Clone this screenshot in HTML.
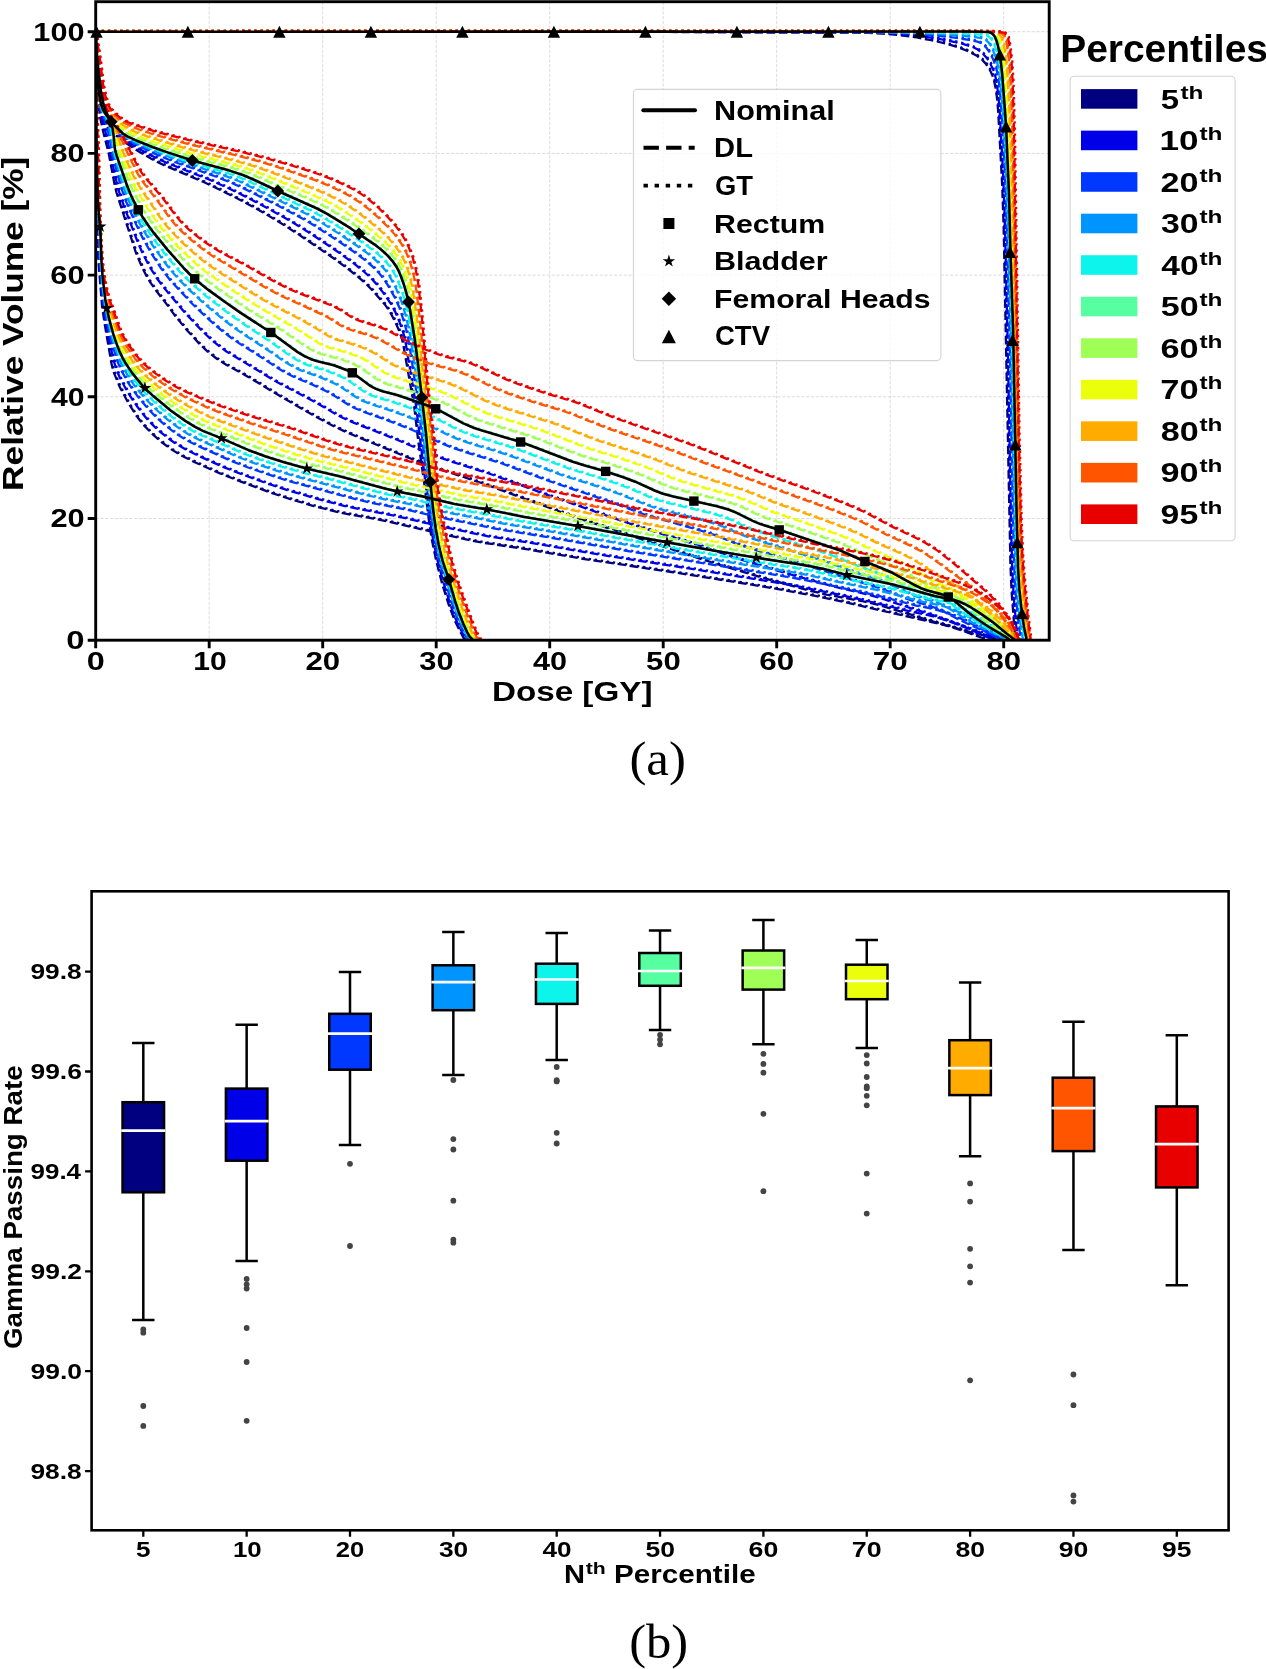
<!DOCTYPE html><html><head><meta charset="utf-8"><title>DVH percentiles and gamma passing rate</title><style>html,body{margin:0;padding:0;background:#fff;}svg{display:block;will-change:transform;}</style></head><body>
<svg width="1266" height="1669" viewBox="0 0 1266 1669">
<rect x="0" y="0" width="1266" height="1669" fill="#fff"/>
<defs><clipPath id="ca"><rect x="95.7" y="1.7" width="953.5" height="638.5"/></clipPath></defs>
<path d="M209.2,1.7V640.2M322.7,1.7V640.2M436.2,1.7V640.2M549.7,1.7V640.2M663.2,1.7V640.2M776.7,1.7V640.2M890.2,1.7V640.2M1003.7,1.7V640.2M95.7,518.5H1049.2M95.7,396.8H1049.2M95.7,275.1H1049.2M95.7,153.4H1049.2M95.7,31.7H1049.2" stroke="#dcdcdc" stroke-width="1" stroke-dasharray="3.2,1.6" fill="none"/>
<g clip-path="url(#ca)" fill="none" stroke-width="2.3">
<path d="M95.7,31.7L665.72,31.95L849.39,32.63L868.39,32.95L883.15,33.68L899.96,35.2L916.7,37.48L931.23,40.18L945.61,43.55L957.76,47.12L967.6,50.95L976.96,55.8L981.99,59.63L986.24,64.32L989.67,69.63L992.37,75.36L994.26,81.4L995.5,87.61L997.03,98.05L998.14,110.67L1002.15,184.45L1003.63,226.65L1010.43,564.37L1011.61,591.78L1015.3,640.2" stroke="#000080" stroke-dasharray="8.5,3.7"/>
<path d="M95.7,30.8L665.72,31.05L849.39,31.73L868.41,32.05L883.21,32.78L900.06,34.31L916.84,36.59L931.41,39.3L945.84,42.68L958.05,46.27L967.96,50.12L977.44,55.04L982.6,58.97L986.96,63.77L990.46,69.2L993.21,75.03L995.13,81.18L996.39,87.46L997.92,97.94L999.04,110.61L1003.05,184.41L1004.53,226.62L1011.33,564.34L1012.5,591.73L1016.2,640.13" stroke="#000080" stroke-dasharray="2.3,3.8"/>
<path d="M95.7,31.7L96.22,72.86L96.69,95.11L97.08,100.66L99.16,110.45L102.45,119.9L104.92,124.87L107.82,128.24L116.95,136.39L124.05,141.75L137.95,150.98L150.41,158.33L157.31,161.94L166.38,166.17L205.3,182.69L234.27,196.89L249.06,204.64L263.63,212.77L279.87,222.48L297.7,233.83L331.75,256.96L347.03,268.11L358.38,277.08L366.69,284.47L373.68,291.64L385.31,305.12L389.76,311.5L394.97,321.33L399.03,330.48L401.67,337.81L403.17,344.31L414.24,406.75L418.09,439.91L424.33,483.97L429.48,524.82L432.17,541.29L435.99,559.81L442.36,584.59L449.43,606.86L455.57,622.37L464.7,640.2" stroke="#000080" stroke-dasharray="8.5,3.7"/>
<path d="M96.6,31.69L97.12,72.85L97.59,95.08L97.97,100.55L100.02,110.2L103.29,119.57L105.66,124.37L108.45,127.59L117.52,135.7L124.57,141.01L138.43,150.22L150.84,157.54L157.71,161.14L166.75,165.35L205.68,181.88L234.68,196.09L249.48,203.85L264.08,211.99L280.34,221.71L298.19,233.08L332.27,256.23L347.58,267.39L358.96,276.39L367.31,283.82L374.35,291.03L386.01,304.56L390.53,311.04L395.78,320.94L399.87,330.14L402.53,337.55L404.06,344.15L415.13,406.62L418.98,439.8L425.22,483.85L430.37,524.69L433.05,541.12L436.87,559.61L443.23,584.35L450.28,606.56L456.39,622L465.5,639.79" stroke="#000080" stroke-dasharray="2.3,3.8"/>
<path d="M95.7,31.7L96.49,84.77L97.51,100.14L99.3,113.71L103.7,133.78L108.44,152L114.5,183.96L116.41,192.3L135.87,252.57L142.58,268.32L146.51,275.92L149.98,281.82L154.81,288.89L167.38,305.14L175.39,316.24L187.45,330.71L198.98,343.36L207.63,351.65L217.09,358.99L225.81,364.42L248.26,376.89L277.58,394.57L302.73,409.21L319.12,418.48L332.75,425.68L343.55,430.85L357.71,436.95L408.41,457.68L430.79,466.28L482.82,483.41L556.75,510.53L582.58,519.67L694.67,556.94L720.78,565.24L768.36,579.39L809.66,590.63L826.33,594.51L863.36,601.41L878.35,604.95L893.17,609.18L925.86,619.36L945.57,625.14L970.3,632.08L988.59,636.53L1000,640.2" stroke="#000080" stroke-dasharray="8.5,3.7"/>
<path d="M96.6,31.69L97.39,84.73L98.41,100.05L100.19,113.55L104.58,133.57L109.32,151.81L115.39,183.79L117.28,192.07L136.72,252.26L143.39,267.93L147.3,275.48L150.74,281.35L155.53,288.36L168.1,304.6L176.11,315.7L188.13,330.12L199.62,342.73L208.22,350.97L217.6,358.25L227.74,364.49L248.71,376.11L278.04,393.79L303.18,408.43L319.56,417.69L333.15,424.88L343.93,430.03L358.05,436.12L408.75,456.85L431.09,465.43L483.12,482.56L557.06,509.68L582.87,518.82L694.95,556.09L721.04,564.38L768.61,578.53L809.88,589.76L826.52,593.63L863.54,600.53L878.58,604.08L893.43,608.32L926.12,618.5L945.82,624.28L970.52,631.21L988.84,635.66L1000.28,639.34" stroke="#000080" stroke-dasharray="2.3,3.8"/>
<path d="M95.7,31.7L95.97,165.61L96.5,216.97L97.21,240.81L98.41,260.95L102.11,306.66L104.51,322.99L111.33,362.76L112.53,368.13L114.16,373.39L119.79,386.93L127.5,401.53L136.23,415.53L142.93,424.26L151.77,433.56L161.42,442.02L171.75,449.65L181.13,455.39L194.24,461.97L219.39,473.14L241.57,481.89L269.1,492.07L288.24,498.47L312.86,505.77L335.96,511.69L346.73,513.92L372.04,518.28L384.64,520.77L461.51,538.43L481.29,542.45L521.21,548.3L584.51,559.04L671.61,571.99L733.21,581.7L776.66,588.85L816.36,596.07L843.28,601.76L941.61,624.35L950.45,626.78L960.94,630.12L988.5,640.2" stroke="#000080" stroke-dasharray="8.5,3.7"/>
<path d="M96.6,31.7L96.87,165.6L97.4,216.95L98.11,240.76L99.31,260.88L103.01,306.55L105.4,322.84L111.88,360.8L112.96,366.14L114.43,371.37L119.07,383.24L126.49,397.89L131.05,405.81L135.94,413.52L142.44,422.28L151.07,431.65L160.57,440.17L172.25,448.9L183.17,455.47L196.29,461.92L221.43,473.01L243.61,481.7L269.4,491.22L288.51,497.61L313.1,504.9L336.16,510.81L346.9,513.04L372.2,517.39L384.83,519.89L461.71,537.55L481.44,541.57L521.36,547.41L584.65,558.16L671.74,571.1L733.36,580.81L776.81,587.96L816.53,595.19L843.48,600.89L941.83,623.48L950.7,625.91L961.23,629.27L988.8,639.35" stroke="#000080" stroke-dasharray="2.3,3.8"/>
<path d="M95.7,31.7L666.21,31.88L867.69,32.58L884.64,33.13L899.45,34.08L916.31,35.69L930.99,37.63L947.64,40.49L962.03,43.71L972.07,46.76L977.75,49.52L982.63,53.34L986.75,57.92L990.13,63.16L993.61,70.79L995.46,76.84L997.02,85.17L998.39,95.68L999.61,110.47L1003.12,174L1004.74,216.38L1007.91,352.08L1011.14,528.08L1012.23,568.36L1013.66,595.89L1016.23,625.46L1017.84,640.2" stroke="#0000e8" stroke-dasharray="8.5,3.7"/>
<path d="M95.7,30.8L666.21,30.98L867.7,31.68L884.68,32.23L901.63,33.35L916.41,34.8L933.22,37.07L949.88,40.02L962.26,42.84L972.38,45.91L978.23,48.76L983.24,52.68L987.47,57.38L990.92,62.73L994.45,70.48L996.33,76.63L997.91,85.03L999.28,95.58L1000.51,110.41L1004.02,173.95L1005.64,216.36L1008.81,352.06L1012.04,528.06L1013.13,568.33L1014.56,595.82L1017.13,625.38L1018.74,640.1" stroke="#0000e8" stroke-dasharray="2.3,3.8"/>
<path d="M95.7,31.7L96.64,68.64L97.69,93.24L98.39,101.03L100.71,110.82L104.31,120.21L107.05,125.05L110.85,129.14L117.58,135.05L123.89,139.64L136.23,147.27L150.88,155.38L166.03,162.55L209.74,179.76L230.14,188.94L248.18,197.94L268.96,208.93L285.55,218.22L301.87,227.99L321.58,240.81L337.33,251.52L352.78,262.64L363.29,271.01L370.71,277.81L376.74,284.36L383.52,293.12L391.07,304.01L395.23,311.84L399.57,322.09L403.26,332.6L405.41,341.28L415.82,404.26L430.19,520.97L432.76,537.57L436.53,556.24L439.21,567.11L444.06,584.35L451.8,608.92L455.41,618.33L458.12,624.48L463.2,634.46L466.6,640.2" stroke="#0000e8" stroke-dasharray="8.5,3.7"/>
<path d="M96.6,31.68L97.71,73.08L98.65,94.3L99.45,101.98L101.91,111.6L105.59,120.82L108.43,125.36L112.28,129.24L119.01,135.04L125.32,139.5L138.61,147.61L151.3,154.58L166.39,161.72L210.09,178.93L230.53,188.13L248.59,197.14L269.39,208.13L286,217.44L302.34,227.23L322.08,240.06L337.84,250.78L353.32,261.92L363.88,270.32L371.34,277.17L377.43,283.78L384.25,292.59L391.83,303.54L396.05,311.46L400.4,321.76L404.12,332.33L406.29,341.12L416.71,404.13L431.08,520.85L433.65,537.42L437.41,556.04L440.08,566.88L444.92,584.1L452.65,608.62L458.93,624.1L463.99,634.03L467.37,639.73" stroke="#0000e8" stroke-dasharray="2.3,3.8"/>
<path d="M95.7,31.7L96.72,82.85L97.82,98.15L99.54,109.94L104.58,127.79L116.7,182.65L118.8,190.91L124.26,207.04L137.62,241.87L143.08,254.23L149.37,266.24L156.52,277.79L163.66,287.32L184.31,312.09L199.45,328.13L207.94,336.45L214.25,342.14L220.87,347.5L226.42,351.46L277.43,382.35L313.54,401.19L335.65,413.98L343.17,417.99L354.06,422.84L395.3,439.03L426.67,452.36L439.34,457.4L452.23,461.85L489.61,473.72L552.04,496.64L637.4,526.24L695.98,544.44L734.65,557.7L783.62,572.47L832.81,586.29L865.9,594.01L878.99,597.59L906.37,606.77L930.78,614.4L965.46,627.5L976.63,631.36L991.17,635.9L1002.21,640.2" stroke="#0000e8" stroke-dasharray="8.5,3.7"/>
<path d="M96.6,31.69L97.61,82.8L98.72,98.05L100.42,109.76L105.46,127.59L117.58,182.46L119.66,190.66L125.11,206.73L138.45,241.53L143.89,253.84L150.15,265.79L157.26,277.28L164.36,286.75L184.99,311.49L200.1,327.5L208.56,335.79L214.84,341.46L221.41,346.78L226.92,350.71L277.87,381.57L313.97,400.4L336.1,413.2L343.57,417.18L354.4,422.01L395.64,438.19L427.02,451.53L439.65,456.55L452.51,460.99L489.9,472.87L552.34,495.79L637.67,525.39L696.26,543.59L734.92,556.84L783.88,571.61L833.04,585.42L866.11,593.13L879.26,596.73L906.65,605.92L931.07,613.55L965.77,626.65L976.91,630.51L991.46,635.04L1002.57,639.37" stroke="#0000e8" stroke-dasharray="2.3,3.8"/>
<path d="M95.7,31.7L96.11,158.33L97.06,217.04L98.74,255.53L101.55,292.12L103.35,308.53L106.76,328.41L112.88,357.04L115.17,365.84L117,370.98L119.91,377.67L126.77,390.54L132.61,399.78L137.78,407.27L143.31,414.51L148.06,420.06L154.45,426.59L159.87,431.52L166.95,437.32L174.37,442.68L185.32,449.32L198.45,455.86L223.58,467.09L242.35,474.51L268.25,483.79L287.4,490.13L319.12,499.31L343.97,505.82L358.32,508.91L392.59,515.3L430.15,523.9L474.96,533.68L489.36,536.54L531.09,542.9L599.82,554.65L688.68,568.44L773.84,582.1L795.52,585.94L836.89,594.25L863.78,600.14L904.8,610.09L928.1,615.17L938.71,618L952.58,622.43L964.52,626.89L994.42,640.2" stroke="#0000e8" stroke-dasharray="8.5,3.7"/>
<path d="M96.6,31.7L97.01,158.32L97.96,217L99.64,255.47L102.45,292.04L104.24,308.4L107.64,328.24L113.76,356.84L116.03,365.57L117.84,370.65L120.72,377.29L127.55,390.08L133.36,399.29L138.51,406.74L144.01,413.94L148.72,419.45L155.08,425.94L160.46,430.84L167.5,436.61L174.88,441.94L185.75,448.53L198.83,455.05L223.93,466.27L242.66,473.67L268.55,482.94L287.67,489.27L319.36,498.44L344.18,504.94L358.49,508.03L392.77,514.42L430.34,523.02L475.15,532.8L489.52,535.65L531.23,542.01L599.97,553.76L688.82,567.55L773.99,581.21L795.69,585.06L837.08,593.36L863.99,599.26L905,609.22L928.31,614.29L938.96,617.14L952.88,621.58L964.85,626.06L994.78,639.37" stroke="#0000e8" stroke-dasharray="2.3,3.8"/>
<path d="M95.7,31.7L694.94,31.83L871.94,32.28L906.02,33.37L937.81,35.77L954.65,37.7L967.18,39.58L977.47,41.7L981.39,43.29L983.13,44.49L986.09,47.35L989.65,52.31L993.35,59.69L996.1,67.63L997.56,73.81L998.86,82.22L1000.21,94.93L1001.66,114.07L1004.59,167.3L1006.37,214.18L1009.86,350.62L1012.98,521.19L1014.23,568.09L1015.03,585.13L1016,597.89L1018.8,625.46L1020.91,640.2" stroke="#0038ff" stroke-dasharray="8.5,3.7"/>
<path d="M95.7,30.8L694.94,30.93L871.95,31.38L889.02,31.74L908.2,32.59L940.02,35.09L954.77,36.81L967.34,38.69L977.71,40.83L981.85,42.52L983.68,43.77L986.77,46.77L990.42,51.84L994.18,59.35L996.96,67.38L998.44,73.63L999.75,82.11L1001.11,94.85L1002.56,114.01L1005.49,167.26L1007.27,214.16L1010.76,350.6L1013.88,521.17L1015.13,568.05L1015.93,585.07L1016.89,597.8L1019.69,625.35L1021.8,640.06" stroke="#0038ff" stroke-dasharray="2.3,3.8"/>
<path d="M95.7,31.7L97.23,68.91L98.86,92.54L100.18,102.58L102.97,112.33L107.09,121.57L110.35,126.12L116.86,132.38L121.29,135.84L127.96,140.01L139.82,146.39L152.93,152.84L165.28,158.29L174.72,162.02L215.11,176.22L231.83,182.93L245.13,189.11L275.4,204.29L303.3,219L313.01,224.75L336.75,240.02L353.49,251.53L364.39,259.58L372.13,266.15L378.51,272.51L383.48,278.58L387.78,285.07L395.4,298.57L399.45,307.71L404.68,323.65L408.16,337.84L412.09,362.36L418.68,408.17L431.6,520.32L434.2,537.05L437.55,553.65L440.94,566.76L449.92,597.06L454.13,609.94L458.23,620.46L461.98,628.68L465.66,635.66L468.9,640.2" stroke="#0038ff" stroke-dasharray="8.5,3.7"/>
<path d="M96.6,31.67L98.13,68.85L99.76,92.46L101.06,102.4L103.81,112.02L107.87,121.12L111.03,125.52L117.45,131.7L121.81,135.11L128.4,139.23L140.23,145.59L153.31,152.02L165.63,157.46L175.04,161.18L215.42,175.37L232.19,182.1L245.53,188.3L275.8,203.48L303.74,218.22L313.49,223.99L337.24,239.27L354.01,250.8L364.94,258.87L372.74,265.48L379.18,271.9L384.21,278.04L388.54,284.6L396.2,298.16L400.29,307.39L405.54,323.4L409.04,337.68L412.98,362.23L419.58,408.05L432.49,520.2L435.09,536.89L438.43,553.45L441.81,566.51L450.79,596.8L454.98,609.64L459.06,620.11L462.78,628.28L466.43,635.21L469.61,639.66" stroke="#0038ff" stroke-dasharray="2.3,3.8"/>
<path d="M95.7,31.7L96.97,80.9L98.18,96.12L99.75,106.16L101.52,112.66L106.61,124.96L109.44,138.23L112.53,154.87L121.18,187.61L126.28,201.98L135.02,222.14L143.08,238.73L151.28,253.33L161.44,268.81L170.78,280.83L191.44,303.06L204.88,315.81L214.92,324.82L222.69,331.31L230.72,337.51L237.68,342.36L259.2,355.91L277.64,367.98L284.91,372.34L293.96,376.94L312.57,384.69L326.31,391.24L333.71,395.39L347.97,404.52L353.91,407.78L363.28,411.73L388.81,420.83L409.4,428.75L418.76,432.76L440.28,442.75L449.67,446.67L462.48,451.15L501.37,463.25L553.87,482.76L608.57,501.08L645.1,514.75L705.42,531.94L716.66,535.78L735.52,543.31L745.11,546.7L800.22,563.78L821.37,570.03L847.07,578.41L871.4,585.4L881.04,588.49L909.24,599.71L930.33,606.14L936.72,608.41L942.86,611.15L959.05,619.62L969.6,624.67L980.28,629.49L997.38,636.46L1004.88,640.2" stroke="#0038ff" stroke-dasharray="8.5,3.7"/>
<path d="M96.6,31.68L97.87,80.85L99.07,96.02L100.63,105.98L102.36,112.34L107.48,124.72L110.33,138.05L113.41,154.67L122.04,187.35L127.12,201.65L135.83,221.76L143.88,238.31L152.04,252.87L162.17,268.29L171.46,280.24L192.09,302.43L205.49,315.15L215.51,324.14L223.25,330.61L231.26,336.79L238.18,341.61L259.69,355.16L278.12,367.22L285.35,371.56L294.33,376.12L312.94,383.87L326.73,390.44L334.18,394.62L348.43,403.75L354.31,406.97L363.6,410.88L389.12,419.99L409.74,427.91L419.14,431.94L440.64,441.93L449.99,445.83L462.76,450.29L501.67,462.4L554.18,481.91L608.87,500.23L645.38,513.89L705.69,531.08L716.98,534.94L735.84,542.47L745.38,545.85L800.48,562.92L821.64,569.17L847.33,577.55L871.66,584.54L881.34,587.64L909.55,598.86L930.61,605.28L937.06,607.57L943.25,610.35L959.46,618.81L969.98,623.86L980.63,628.66L997.74,635.64L1005.33,639.42" stroke="#0038ff" stroke-dasharray="2.3,3.8"/>
<path d="M95.7,31.7L96.28,152.88L97.38,209.79L98.4,226.26L99.8,259.28L101.63,283.08L103.76,303.15L107.24,323.03L111.86,342.64L117,360.13L121.14,370.18L128.23,382.89L133.31,390.43L138.78,397.68L145.72,406.07L151.84,412.79L158.34,419.19L165.2,425.22L172.39,430.89L178.37,435.12L187.74,440.83L199.21,446.52L231.02,460.82L248.11,467.52L268.93,474.7L291.66,481.93L353.66,498.72L375.13,503.58L403.99,509.06L437.96,516.96L499.12,529.39L544.45,536.63L629.48,551.31L788.98,577.09L803.42,579.78L862.68,592.3L880.57,596.44L916.15,605.51L935.9,609.68L944.69,612.26L958.24,617.52L971.42,623.6L979.45,627.8L1001.58,640.2" stroke="#0038ff" stroke-dasharray="8.5,3.7"/>
<path d="M96.6,31.7L97.18,152.87L98.28,209.75L99.29,226.21L100.59,257.39L102.21,279.34L104.66,303.03L107.75,321.06L112.27,340.65L117.85,359.84L121.95,369.79L128.99,382.41L134.04,389.91L139.49,397.12L146.4,405.48L152.49,412.17L158.95,418.53L165.78,424.53L172.93,430.17L178.87,434.37L188.17,440.04L199.59,445.71L231.37,459.99L248.42,466.67L269.21,473.84L291.91,481.07L353.87,497.85L375.31,502.7L404.18,508.18L438.15,516.08L499.28,528.51L544.59,535.74L629.63,550.42L789.13,576.2L803.6,578.9L862.87,591.42L880.79,595.57L916.35,604.63L936.12,608.81L944.98,611.4L958.6,616.7L971.81,622.79L979.89,627.01L1002,639.41" stroke="#0038ff" stroke-dasharray="2.3,3.8"/>
<path d="M95.7,31.7L697.31,31.77L875.01,32.05L911.38,32.81L947.62,34.6L962.46,35.75L975.11,37.11L981.38,38.05L983.43,38.57L985.33,39.55L988.48,42.35L990.77,45.76L992.68,49.41L995.68,57.19L997.9,65.34L999.4,73.72L1000.41,82.21L1003.58,122.76L1005.51,159.1L1007.08,197.61L1010.73,328.16L1014.39,520.81L1015.68,567.89L1016.52,585L1017.99,602.06L1020.65,625.45L1023.13,640.2" stroke="#0094ff" stroke-dasharray="8.5,3.7"/>
<path d="M95.7,30.8L699.45,30.87L879.3,31.19L917.82,32.14L951.93,34.01L975.23,36.21L981.56,37.17L983.75,37.73L985.81,38.79L989.16,41.76L992.57,47.14L995.86,54.9L998.77,65.14L1000.29,73.59L1001.3,82.12L1004.34,120.57L1006.31,156.92L1007.9,195.44L1011.57,325.99L1015.29,520.79L1016.58,567.86L1017.42,584.94L1018.88,601.97L1021.54,625.33L1024.02,640.04" stroke="#0094ff" stroke-dasharray="2.3,3.8"/>
<path d="M95.7,31.7L96.57,53.25L97.85,71.37L99.75,92.84L101.61,104.01L104.35,112.65L106.6,117.85L108.77,121.82L112.25,126.26L119.67,133.27L125.27,137.1L134.25,141.87L148.58,148.59L162.11,154.35L187.65,163.75L223.27,175.12L239.11,181.3L291.28,206.35L308.48,215.05L318.33,220.68L340.42,234.6L355.5,244.74L366.6,252.64L373.7,258.3L380.33,264.49L385.58,270.42L389.47,275.96L396.22,288.84L401.77,302.25L405.91,316.28L410.1,335.03L414.07,360.84L420.61,410.36L432.33,517.59L434.86,534.44L437.89,550.04L441.21,563.25L455.54,609.92L459.64,620.5L463.84,629.82L467.66,636.78L470.56,640.2" stroke="#0094ff" stroke-dasharray="8.5,3.7"/>
<path d="M96.6,31.66L97.47,53.21L98.65,70.16L100.65,92.73L102.48,103.8L105.19,112.32L107.41,117.47L109.52,121.34L112.9,125.64L120.24,132.57L125.73,136.33L134.65,141.06L148.95,147.77L162.45,153.52L187.94,162.9L223.57,174.27L239.47,180.48L291.68,205.54L308.9,214.25L318.8,219.91L340.91,233.85L356.01,244L367.14,251.92L374.29,257.62L380.98,263.86L386.29,269.87L390.23,275.48L397.04,288.46L402.62,301.96L406.78,316.06L410.99,334.87L414.96,360.72L421.5,410.26L433.22,517.48L435.74,534.28L438.77,549.85L442.08,563L456.39,609.61L460.47,620.16L464.64,629.43L468.4,636.27L471.23,639.61" stroke="#0094ff" stroke-dasharray="2.3,3.8"/>
<path d="M95.7,31.7L96.24,57.07L97.22,80.72L98.36,94.2L99.97,104.21L101.21,109.11L102.4,112.24L107.11,121.01L108.37,124.12L111.02,137.37L113.35,152.37L122.73,184.8L127.29,197.52L134.21,212.9L142.8,229.24L153.29,246.33L164.96,262.73L171.2,270.69L176.69,277.09L187.24,288L203.23,302.83L223.94,320L233.33,327.12L243.01,333.91L264.27,347.72L282.37,360.15L290.97,365.53L296.96,368.65L301.6,370.66L320.57,377.37L334.47,383.46L340.41,386.68L355.79,397.07L361.68,400.4L369.49,403.61L393.54,411.55L417.31,420.38L425.09,423.71L446.31,434.14L457.13,438.91L469.89,443.41L495.83,451.13L508.71,455.27L564.19,475.94L593.22,485.04L617.24,493.21L650.23,506.28L661.57,509.68L702.48,520.18L715.47,523.91L723.43,526.78L742,534.84L749.89,537.85L827.32,562.21L855.78,572.64L881.34,581.14L890.69,584.93L913.65,595.37L920.05,597.56L934.69,601.71L942.54,604.79L948.42,607.98L962.44,616.87L972.59,622.63L984.4,628.89L1001.06,636.8L1006.81,640.2" stroke="#0094ff" stroke-dasharray="8.5,3.7"/>
<path d="M96.6,31.68L97.14,57.04L98.11,80.67L99.25,94.1L100.85,104.02L102.07,108.84L103.22,111.87L107.92,120.61L109.23,123.85L111.91,137.21L114.23,152.17L123.59,184.53L128.12,197.18L135.02,212.51L143.58,228.8L154.04,245.83L165.68,262.19L171.89,270.12L177.36,276.49L187.87,287.36L203.82,302.15L224.5,319.29L233.86,326.39L243.51,333.17L264.77,346.97L282.86,359.4L291.42,364.74L297.34,367.84L301.94,369.82L320.89,376.53L334.87,382.66L340.88,385.91L356.27,396.31L362.07,399.59L369.79,402.76L393.83,410.71L417.65,419.55L425.46,422.89L446.7,433.33L457.47,438.08L470.17,442.56L496.09,450.26L509.01,454.42L564.48,475.09L593.5,484.18L617.55,492.36L650.52,505.43L661.8,508.81L702.71,519.31L715.75,523.06L723.76,525.95L742.35,534.01L750.18,537L827.6,561.36L856.08,571.79L881.65,580.3L891.05,584.11L913.98,594.53L920.31,596.7L934.97,600.85L942.93,603.98L948.88,607.21L962.9,616.1L973.03,621.84L984.8,628.08L1001.47,636L1007.33,639.46" stroke="#0094ff" stroke-dasharray="2.3,3.8"/>
<path d="M95.7,31.7L96.37,147.42L96.89,182.31L97.61,206.18L99.17,228.14L100.51,261.18L101.89,279.49L104.32,301.39L107.92,321.26L112.92,340.79L118.69,358.12L123.25,368.01L130.84,380.45L135.11,386.35L140.86,393.42L148.16,401.52L154.54,408L161.2,414.23L168.18,420.14L181.43,429.94L189.21,434.77L199.01,439.71L237.62,456.8L254.76,463.39L275.67,470.32L296.75,476.7L364.21,494.51L385.67,499.51L412.73,504.67L443.11,511.87L473.79,517.57L506.18,524.23L556.92,532.59L656.42,550L745.2,564.77L796,572.8L810.43,575.58L835.45,581.42L876.83,589.97L923.06,601.89L942.83,606.02L951.55,608.83L963.2,614.02L977.63,621.71L983.87,625.43L1006.75,640.2" stroke="#0094ff" stroke-dasharray="8.5,3.7"/>
<path d="M96.6,31.7L97.27,147.41L97.79,182.29L98.51,206.14L100.07,228.1L101.4,261.12L102.79,279.41L105.21,301.26L108.8,321.06L113.78,340.54L119.53,357.79L124.04,367.58L131.58,379.94L135.83,385.81L141.54,392.83L148.82,400.9L155.17,407.36L161.8,413.56L168.74,419.45L181.93,429.19L189.66,433.99L199.39,438.89L237.97,455.97L255.06,462.54L275.94,469.46L297,475.83L364.43,493.63L385.85,498.63L412.92,503.79L443.29,510.98L473.97,516.69L506.34,523.34L557.07,531.7L656.57,549.12L745.35,563.89L796.16,571.91L810.62,574.7L835.65,580.54L877.02,589.1L923.27,601.02L943.06,605.15L951.87,607.99L963.59,613.21L978.07,620.93L984.35,624.66L1007.22,639.43" stroke="#0094ff" stroke-dasharray="2.3,3.8"/>
<path d="M95.7,31.7L881.94,31.88L927.02,32.45L963.42,33.5L984.72,34.92L986.8,35.36L988.7,36.36L991.7,39.35L994.53,44.97L997.13,52.99L999.06,61.28L1001.32,78.26L1004.93,125.38L1006.57,157.56L1008.09,196.2L1012.09,333.62L1015.47,514.04L1017.01,569.87L1017.95,587.03L1019.82,606.27L1022.56,627.57L1025.03,640.2" stroke="#0cf4eb" stroke-dasharray="8.5,3.7"/>
<path d="M95.7,30.8L881.94,30.98L927.04,31.55L963.46,32.6L984.85,34.03L987.11,34.52L989.2,35.61L992.44,38.83L995.36,44.63L998,52.75L999.94,61.11L1002.22,78.18L1005.83,125.33L1007.47,157.52L1008.98,196.17L1012.99,333.6L1016.37,514.02L1017.9,569.83L1018.85,586.96L1020.72,606.16L1023.44,627.43L1025.91,640.02" stroke="#0cf4eb" stroke-dasharray="2.3,3.8"/>
<path d="M95.7,31.7L96.73,53.36L98.04,69.27L100.36,91.96L102.63,104.29L105.53,112.93L109.56,121.09L113.08,125.55L121.34,133.41L126.09,136.54L134.21,140.64L150.93,147.87L164.71,153.26L189.48,161.86L225.56,172.48L240.58,177.86L252.07,182.92L312.9,211.67L322.88,217.2L346.14,231.65L361.32,241.79L371.56,249.05L377.81,254.02L384.46,260.27L388.98,265.39L392.89,270.98L395.59,275.96L399.23,284.25L404.17,298.07L407.86,312.35L412.13,334.7L415.91,360.67L423.49,422.97L432.91,514.91L435.36,531.85L438.32,547.55L441.91,561.94L447.55,579.3L454.6,603.4L457.52,612.04L462.18,623.7L466.01,631.98L468.87,636.91L471.98,640.2" stroke="#0cf4eb" stroke-dasharray="8.5,3.7"/>
<path d="M96.6,31.66L97.56,52.16L98.72,66.92L101.26,91.85L103.23,102.97L105.94,111.54L108.2,116.7L110.32,120.61L114.51,125.75L121.9,132.7L126.53,135.76L134.59,139.83L151.27,147.04L165.03,152.42L189.76,161L225.84,171.62L240.92,177.03L252.45,182.11L313.31,210.86L323.34,216.43L346.62,230.89L361.83,241.05L372.1,248.33L378.4,253.33L385.1,259.64L389.68,264.83L393.66,270.51L396.4,275.57L400.06,283.9L405.04,297.81L408.74,312.16L413.02,334.56L416.8,360.56L424.39,422.87L433.81,514.8L436.25,531.71L439.2,547.36L442.45,560.6L448.41,579.03L454.78,600.95L457.98,610.66L462.56,622.3L466.81,631.57L469.59,636.38L472.62,639.57" stroke="#0cf4eb" stroke-dasharray="2.3,3.8"/>
<path d="M95.7,31.7L96.31,56.99L97.31,78.89L98.67,94L100.43,103.96L101.81,108.81L103.15,111.89L108.49,120.34L109.87,123.4L111.32,129.98L114.37,151.65L116.21,158.13L125.54,186.97L128.55,194.85L132.68,204.07L137.28,213.06L142.25,221.83L153.28,238.62L166.45,255.99L180.6,272.67L192.56,284.51L206.58,296.52L230.56,314.94L244.35,324.58L268.29,340.34L290.25,355.97L297.42,360.41L304.99,364.09L311.32,366.35L327.4,371.12L341.44,376.81L348.8,380.89L363.9,391.62L369.85,394.79L376.15,397.18L390.69,401.45L401.89,405.16L424.08,413.24L434.85,418.05L457.34,429.58L468.24,434.1L479.45,437.8L513.39,447.91L570.27,469.13L597.72,477.37L616.93,483.73L629.59,488.38L649.69,497.11L657.59,500.04L667.32,502.82L711.57,513.4L722.9,516.71L730.76,519.75L747.54,527.59L753.77,530.15L832.4,555.53L860.47,566.87L884.14,575.61L893.37,579.65L909.79,588.13L917.42,591.66L923.79,593.89L938.42,597.92L946.19,601.14L951.9,604.64L965.33,614.52L976.57,621.78L988.07,628.63L1004.36,637.33L1008.46,640.2" stroke="#0cf4eb" stroke-dasharray="8.5,3.7"/>
<path d="M96.6,31.68L97.21,56.96L98.21,78.83L99.56,93.89L101.31,103.75L102.66,108.51L103.94,111.46L109.26,119.89L110.72,123.11L112.21,129.83L115.25,151.44L126.39,186.68L129.38,194.5L133.49,203.68L138.07,212.64L143.02,221.37L154.02,238.1L167.15,255.43L181.26,272.06L193.16,283.84L207.14,295.82L231.09,314.21L244.86,323.83L268.8,339.6L292.15,356.15L299.32,360.42L305.33,363.25L311.59,365.5L327.69,370.27L341.82,376L347.85,379.22L362.98,389.96L370.21,393.97L376.43,396.33L390.96,400.59L402.18,404.31L424.41,412.4L435.25,417.25L457.72,428.76L468.55,433.25L479.71,436.94L513.67,447.06L570.56,468.28L597.99,476.51L617.23,482.88L629.93,487.54L650.03,496.27L657.87,499.18L667.54,501.95L711.8,512.53L723.19,515.85L731.12,518.93L747.9,526.77L754.08,529.31L832.7,554.69L860.8,566.03L884.47,574.77L893.77,578.84L910.19,587.32L917.76,590.83L924.05,593.02L938.69,597.06L946.61,600.34L952.41,603.89L965.84,613.78L977.05,621.01L988.51,627.85L1004.81,636.55L1009.03,639.5" stroke="#0cf4eb" stroke-dasharray="2.3,3.8"/>
<path d="M95.7,31.7L96.4,140.1L97,178.68L97.83,204.39L98.48,215.4L99.76,228.18L100.92,259.4L102.38,279.55L104.99,301.44L108.41,319.48L110.59,328.4L113.66,338.97L119.17,354.51L123.9,364.39L131.74,376.72L140.82,388.19L147.06,394.86L153.59,401.24L161.73,408.59L168.76,414.45L176.03,420.04L183.54,425.3L192.92,431.05L201.13,435.12L243.26,453.36L262.18,460.46L281.44,466.58L302.62,472.68L331.17,479.61L370.19,490.15L388.01,494.6L416.87,500.19L449.04,507.83L481.6,513.56L515.82,520.48L566.56,528.96L646.13,543.26L693.2,551.39L751.18,561.16L792.94,567.62L809.23,570.47L818.21,572.4L841.39,578.13L886.37,587.45L928.97,598.8L948.76,602.89L954.01,604.53L960.75,607.41L975.17,615.29L987.51,623.1L1011.17,640.2" stroke="#0cf4eb" stroke-dasharray="8.5,3.7"/>
<path d="M96.6,31.7L97.3,140.09L97.9,178.66L98.73,204.35L99.37,215.32L100.66,228.13L101.82,259.35L103.28,279.47L105.88,301.3L109.29,319.29L111.46,328.17L114.52,338.71L120.01,354.17L124.69,363.95L132.47,376.2L141.5,387.59L147.71,394.22L154.21,400.58L162.32,407.91L169.33,413.75L176.56,419.31L184.04,424.55L193.36,430.26L201.5,434.3L243.61,452.53L262.47,459.61L281.7,465.72L302.85,471.81L331.39,478.73L370.42,489.28L388.21,493.72L417.05,499.31L449.22,506.95L481.77,512.67L515.98,519.59L566.71,528.08L646.28,542.38L693.35,550.51L751.33,560.27L793.09,566.73L809.4,569.59L818.42,571.53L841.59,577.25L886.57,586.57L929.19,597.93L948.99,602.02L954.33,603.69L959.47,605.81L967.69,609.95L975.63,614.52L988.02,622.36L1011.68,639.46" stroke="#0cf4eb" stroke-dasharray="2.3,3.8"/>
<path d="M95.7,31.7L966.29,31.57L987.83,32.01L989.95,32.36L991.84,33.38L993.43,34.83L994.72,36.55L996.42,40.5L998.2,46.72L1000.27,57.29L1002.21,74.41L1006.07,125.99L1009.03,194.88L1010.53,253.04L1013.2,332.73L1016.6,513.71L1018.16,569.72L1019.32,589.08L1021.38,608.36L1024.06,627.57L1026.8,640.2" stroke="#56ffa0" stroke-dasharray="8.5,3.7"/>
<path d="M95.7,30.8L966.29,30.67L987.92,31.11L990.24,31.51L992.36,32.65L994.1,34.22L995.49,36.09L997.27,40.2L999.07,46.51L1001.16,57.15L1003.11,74.34L1006.97,125.93L1009.93,194.85L1011.43,253.02L1014.1,332.71L1017.5,513.69L1019.06,569.68L1020.22,589L1022.27,608.25L1024.95,627.41L1027.68,640" stroke="#56ffa0" stroke-dasharray="2.3,3.8"/>
<path d="M95.7,31.7L96.81,52.31L98.14,67.15L100.89,91.06L103.28,103.44L106.18,112.13L110.23,120.35L113.77,124.85L122.9,133.54L127.75,136.57L136.06,140.44L153.12,147.2L166.06,151.87L193.3,160.77L228.7,170.36L242.84,175.07L253.4,179.52L277.25,190.75L317.03,208.51L327.12,213.95L349.61,227.71L374.34,244.34L381.58,249.97L387.46,255.42L392.06,260.53L396.07,266.12L398.79,271.16L400.99,276.45L404.04,285.1L406.57,293.91L410,309.59L414.53,337.89L417.75,361.74L426.02,433.49L429.94,478.03L433.32,511.1L435.64,528.14L438.7,545.06L442.51,560.64L448.71,579.12L455.07,601.14L458.65,612.03L463.29,623.76L467.09,632.1L469.99,637.04L473.3,640.2" stroke="#56ffa0" stroke-dasharray="8.5,3.7"/>
<path d="M96.6,31.65L97.7,52.24L99.03,67.05L101.78,90.94L104.16,103.21L107.01,111.78L111,119.87L114.42,124.23L123.45,132.82L128.17,135.78L136.41,139.61L153.43,146.36L167.43,151.39L195.75,160.57L228.95,169.49L243.16,174.23L253.77,178.7L277.63,189.93L317.43,207.7L327.58,213.17L350.09,226.95L374.87,243.62L382.16,249.28L388.1,254.79L392.76,259.96L396.83,265.64L399.6,270.78L401.83,276.13L404.9,284.82L407.44,293.69L410.68,308.3L415.25,336.62L418.37,359.36L426.91,433.39L430.83,477.94L434.34,512.13L436.53,528L439.58,544.87L443.37,560.38L449.57,578.85L455.93,600.89L459.49,611.72L464.12,623.41L467.9,631.7L470.71,636.49L473.91,639.53" stroke="#56ffa0" stroke-dasharray="2.3,3.8"/>
<path d="M95.7,31.7L96.38,56.92L97.49,78.76L98.96,93.82L100.87,103.72L103.04,110.08L104.78,112.95L109.77,119.72L111.27,122.72L112.71,129.28L113.81,137.62L114.46,146L115.33,150.97L116.73,155.82L127.21,186L130.32,193.82L133.86,201.44L137.78,208.88L142.93,217.56L147.59,224.56L153.56,232.69L167.36,249.65L184.13,268.49L190.04,274.47L196.25,280.15L208.03,289.66L224.33,301.55L239.54,312.09L271.91,333.27L297.69,352.14L304.91,356.43L311.05,359.18L317.46,361.22L333.78,365.28L346.4,369.92L353.89,373.74L368.73,384.77L373.02,387.42L376.04,388.89L382.37,391.18L396.98,395.11L406.61,398.15L430.39,406.56L441.1,411.42L463.34,423.33L474.18,427.93L485.36,431.61L519.25,441.55L533.49,446.68L572.76,461.69L583.98,465.27L603.42,470.69L622.6,476.98L635.2,481.69L655.1,490.73L662.97,493.71L674.32,496.8L717.02,506.26L728.34,509.48L736.14,512.6L752.71,520.83L760.46,524.08L781.33,530.6L840.28,550.51L864.85,561.48L883.58,569.01L892.82,573.06L913.41,584.47L920.95,588.2L927.28,590.46L941.9,594.38L948.12,596.91L953.81,600.5L968.02,612.33L978.92,620.23L990.1,627.71L1006.04,637.1L1010,640.2" stroke="#56ffa0" stroke-dasharray="8.5,3.7"/>
<path d="M96.6,31.68L97.28,56.89L98.39,78.69L99.85,93.7L101.74,103.5L103.21,108.2L104.62,111.09L110.52,119.23L112.12,122.42L113.6,129.15L114.7,137.54L115.36,145.9L116.2,150.76L117.58,155.54L128.05,185.69L131.14,193.46L134.66,201.04L138.57,208.44L143.69,217.08L148.33,224.04L154.28,232.14L168.05,249.06L184.79,267.88L190.67,273.83L196.84,279.47L208.57,288.94L224.85,300.81L240.03,311.34L272.42,332.53L298.18,351.39L305.33,355.63L311.36,358.33L317.7,360.35L334.04,364.42L346.76,369.09L354.36,372.97L369.24,384.03L376.4,388.07L382.63,390.32L397.23,394.24L406.88,397.29L430.72,405.73L441.52,410.63L463.74,422.52L474.49,427.09L485.62,430.75L519.53,440.7L533.81,445.84L573.06,460.84L584.23,464.41L603.68,469.83L622.89,476.14L635.54,480.85L655.46,489.9L663.25,492.86L674.53,495.92L717.23,505.39L728.63,508.63L736.52,511.78L753.09,520.02L760.77,523.24L781.61,529.75L840.62,549.67L865.21,560.65L883.92,568.18L893.21,572.25L913.84,583.68L921.3,587.37L927.53,589.59L942.17,593.52L948.53,596.11L954.34,599.77L968.58,611.62L979.43,619.49L990.57,626.95L1006.52,636.34L1010.61,639.54" stroke="#56ffa0" stroke-dasharray="2.3,3.8"/>
<path d="M95.7,31.7L96.45,136.46L97.08,175.05L97.93,200.77L98.84,215.44L100.31,228.22L101.49,261.28L102.67,277.78L105.33,299.67L108.81,317.71L113.13,333.68L116.03,342.4L119.33,350.97L122.44,357.63L125.1,362.46L132.25,373.15L141.54,384.54L146.64,389.84L153.34,396.12L170.32,410.19L185.25,420.9L194.64,426.67L202.83,430.84L221.59,438.38L248.53,450.16L265.75,456.57L283.29,462.06L306.31,468.47L340.31,476.4L382.87,488L397.13,491.58L422.41,496.38L454.58,504.07L487.21,509.48L523.26,516.7L577.61,525.95L658.96,540.86L713.27,550.41L756.76,557.79L798.54,564.2L813.03,566.72L823.8,569.07L846.93,575.05L891.93,584.32L934.49,595.92L954.29,599.97L959.52,601.7L964.55,603.96L971,607.48L978.78,612.36L992.35,621.82L1006.55,633.49L1015.3,640.2" stroke="#56ffa0" stroke-dasharray="8.5,3.7"/>
<path d="M96.6,31.69L97.35,136.45L97.98,175.03L98.83,200.73L99.74,215.36L101.21,228.16L102.38,261.24L103.57,277.7L106.22,299.53L109.69,317.51L113.99,333.41L116.88,342.09L120.16,350.62L123.24,357.22L125.87,362L132.98,372.62L142.21,383.93L147.27,389.2L153.94,395.45L170.87,409.48L185.74,420.15L195.09,425.89L203.2,430.02L221.94,437.55L248.87,449.33L266.04,455.72L283.54,461.19L306.54,467.6L340.54,475.53L383.1,487.13L397.33,490.71L422.59,495.5L454.75,503.19L487.38,508.59L523.42,515.81L577.77,525.06L659.12,539.97L713.42,549.52L756.9,556.9L798.68,563.31L813.2,565.83L824.02,568.19L847.13,574.17L892.14,583.45L934.71,595.05L954.52,599.1L959.85,600.86L964.95,603.15L971.45,606.71L979.28,611.61L992.9,621.11L1007.12,632.78L1015.84,639.48" stroke="#56ffa0" stroke-dasharray="2.3,3.8"/>
<path d="M95.7,31.7L967.37,31.56L988.94,31.97L991.07,32.29L993,33.17L996.09,35.96L998.07,39.69L999.85,45.9L1001.85,56.5L1003.72,73.65L1007.16,123.15L1009.72,187.82L1011.47,256.84L1013.81,332.32L1017.02,504.9L1018.67,563.13L1019.83,584.67L1021.46,601.85L1024.47,625.39L1027.4,640.2" stroke="#a0ff56" stroke-dasharray="8.5,3.7"/>
<path d="M95.7,30.8L967.37,30.66L989.02,31.07L991.32,31.42L993.46,32.39L995.28,33.75L996.81,35.42L998.9,39.35L1000.73,45.7L1002.39,54.22L1004.62,73.58L1008.05,123.1L1010.62,187.79L1012.37,256.82L1014.71,332.3L1017.92,504.88L1019.57,563.09L1020.73,584.6L1022.35,601.75L1025.36,625.26L1028.28,640.01" stroke="#a0ff56" stroke-dasharray="2.3,3.8"/>
<path d="M95.7,31.7L97.54,56.93L100.24,82.1L101.81,93.49L104.04,103.59L106.82,111.09L111.83,120.02L115.59,124.3L124.23,131.71L129.1,134.71L136.41,138.06L152.51,144.23L165.53,148.79L195.15,158.11L231.85,167.81L247.16,172.78L259.93,177.97L280.93,187.3L308.45,198.99L321,204.74L331.15,210.15L347.78,220.44L359.26,228.06L374.11,238.84L381.28,244.55L387.17,249.97L392.56,255.88L397.29,262.35L399.57,266.33L401.5,270.5L406.01,283.52L409.65,298.02L412.48,313.86L417.64,350.3L427.27,434.9L431.23,480.74L433.98,507.06L436.49,525.3L439.76,543.41L443.78,560.19L449.84,578.78L459.25,609.58L463.78,621.4L468.41,631.93L471.24,636.92L474.44,640.2" stroke="#a0ff56" stroke-dasharray="8.5,3.7"/>
<path d="M96.6,31.64L98.44,56.85L101.14,81.99L102.69,93.34L104.91,103.35L107.64,110.71L112.57,119.5L116.21,123.65L124.78,130.99L129.52,133.91L136.76,137.23L152.82,143.38L166.91,148.3L195.4,157.24L232.09,166.94L247.47,171.93L260.29,177.15L281.28,186.48L308.81,198.17L321.39,203.94L331.61,209.37L348.26,219.68L359.77,227.32L374.66,238.12L381.86,243.86L387.8,249.33L393.99,256.21L398.05,261.87L400.37,265.92L402.33,270.16L406.88,283.27L410.53,297.83L413.37,313.73L418.53,350.19L428.17,434.8L432.13,480.66L434.88,506.96L437.38,525.15L440.64,543.23L444.64,559.94L450.7,578.51L460.1,609.28L464.62,621.06L469.22,631.53L471.97,636.39L475.07,639.55" stroke="#a0ff56" stroke-dasharray="2.3,3.8"/>
<path d="M95.7,31.7L96.47,55.2L97.71,77L99.23,92.03L101.04,101.94L102.39,106.79L103.61,109.92L105.29,112.82L110.18,119.64L111.73,122.61L113.49,129.03L116.49,147.08L118.25,153.54L129.46,183.34L135.84,196.93L145.94,214.3L155.5,228.11L168.32,243.63L184.28,260.8L195.12,271.24L205.44,279.76L217.61,288.68L239.71,303.94L252.42,312.11L279.55,328.77L301.63,343.89L311.61,350.09L316.13,352.3L320.85,354.07L340.33,359.22L352.91,363.91L357.45,366.11L361.79,368.66L376.82,379.35L384.32,383.1L390.66,385.3L403.59,388.93L418.02,393.45L437.04,400.08L446.25,404.17L470.06,416.62L476.2,419.33L484.06,422.28L527.47,435.4L541.71,440.49L569.86,451.5L582.49,456.09L609.86,464.22L629,470.54L641.6,475.19L661.58,483.99L671.02,487.51L680.7,490.27L721.38,500.36L732.67,503.62L742.06,507.25L758.75,515.15L764.94,517.74L793.66,527.15L836.51,541.96L847.46,546.21L868.8,556.07L888.97,564.43L898.14,568.58L905.53,572.58L921.41,581.97L927.38,584.98L933.57,587.42L946.12,591.69L952.16,594.5L957.75,598.2L973.17,611.18L991.69,625.42L1007.78,636.86L1011.42,640.2" stroke="#a0ff56" stroke-dasharray="8.5,3.7"/>
<path d="M96.6,31.67L97.37,55.16L98.61,76.93L100.12,91.92L101.91,101.73L104.42,109.54L106.04,112.32L110.94,119.15L112.57,122.28L114.37,128.85L117.38,146.9L119.1,153.25L130.29,183L136.63,196.51L146.7,213.82L156.22,227.57L168.99,243.04L184.93,260.18L195.72,270.57L205.99,279.05L218.13,287.94L240.21,303.19L252.89,311.35L280.04,328.01L302.13,343.15L312.04,349.3L316.49,351.47L321.13,353.21L340.59,358.36L353.28,363.09L357.87,365.31L362.28,367.91L377.29,378.58L384.65,382.27L390.93,384.44L403.85,388.07L418.29,392.59L437.37,399.25L446.65,403.36L470.44,415.8L476.54,418.5L484.36,421.43L527.76,434.55L542.02,439.64L570.19,450.66L582.78,455.24L610.12,463.36L629.29,469.69L641.94,474.35L661.93,483.16L671.29,486.65L680.92,489.39L721.61,499.49L732.95,502.76L742.43,506.42L759.12,514.33L765.26,516.9L793.96,526.3L836.81,541.11L847.81,545.39L869.16,555.25L889.32,563.6L898.54,567.78L905.98,571.8L921.85,581.18L927.75,584.16L933.87,586.57L946.45,590.85L952.61,593.72L958.29,597.48L973.73,610.47L992.22,624.7L1008.33,636.15L1012.07,639.58" stroke="#a0ff56" stroke-dasharray="2.3,3.8"/>
<path d="M95.7,31.7L96.53,130.86L97.41,178.59L98.19,202.45L98.93,215.28L100.24,228.06L101.35,257.42L102.5,273.9L104.95,293.94L108.09,310.13L112.58,327.92L118,343.51L120.89,350.24L124.17,356.79L126.93,361.55L131.04,367.62L140.21,379.04L145.24,384.36L151.9,390.65L166.06,402.26L182.48,413.89L194.96,421.56L206.42,427.34L225.22,434.7L252.33,445.96L267.85,451.63L287.09,457.78L311.79,464.87L343.95,472.47L400.78,487.39L425.97,492.5L449.17,498.09L459.95,500.37L490.75,505.43L526.77,512.61L581.03,522.13L662.29,537.12L759.93,554.38L817.87,564.12L826.84,566.06L849.99,571.84L893.06,581.12L905.49,584.37L937.25,593.52L955.1,597.62L960.34,599.29L967.02,602.31L974.97,606.89L982.61,611.96L995.8,621.86L1015.9,640.2" stroke="#a0ff56" stroke-dasharray="8.5,3.7"/>
<path d="M96.6,31.69L97.43,130.85L98.31,178.57L99.09,202.41L99.83,215.21L101.14,228.01L102.24,257.38L103.4,273.82L105.84,293.8L108.97,309.93L113.44,327.67L118.84,343.17L121.71,349.86L124.96,356.36L127.7,361.07L131.77,367.1L140.89,378.44L145.88,383.73L152.5,389.97L166.61,401.54L182.98,413.14L195.4,420.78L206.78,426.51L225.56,433.86L252.66,445.13L268.14,450.78L287.35,456.92L312.02,464L344.18,471.6L400.99,486.51L426.16,491.62L449.37,497.22L460.11,499.48L490.91,504.55L526.93,511.73L581.19,521.24L662.45,536.23L760.09,553.49L818.04,563.24L827.05,565.19L850.19,570.97L893.28,580.24L905.74,583.51L937.48,592.65L955.34,596.75L960.66,598.44L967.43,601.51L975.45,606.12L983.13,611.22L996.38,621.17L1016.49,639.52" stroke="#a0ff56" stroke-dasharray="2.3,3.8"/>
<path d="M95.7,31.7L968.53,31.56L990.13,31.93L992.26,32.21L996.02,33.98L998.82,36.95L1000.58,40.83L1002.05,47.14L1003.54,55.65L1005.34,72.83L1008.35,120.26L1010.52,180.71L1014.41,329.72L1017.47,496.05L1019.11,554.36L1020.28,578.09L1021.9,597.46L1025.29,625.34L1028.04,640.2" stroke="#ebff0c" stroke-dasharray="8.5,3.7"/>
<path d="M95.7,30.8L968.53,30.66L990.2,31.03L992.48,31.33L994.63,32.12L996.54,33.25L998.21,34.71L999.58,36.46L1001.44,40.55L1002.94,46.96L1004.43,55.52L1006.24,72.76L1009.24,120.21L1011.42,180.68L1015.31,329.7L1018.37,496.03L1020.01,554.32L1021.18,578.03L1022.79,597.37L1026.18,625.21L1028.93,640.02" stroke="#ebff0c" stroke-dasharray="2.3,3.8"/>
<path d="M95.7,31.7L98.3,60.43L100.89,83.38L102.43,93.66L104.23,101.53L105.57,105.94L106.92,109.1L111.55,116.89L115.84,122.19L121.12,126.52L127.58,131.14L132.67,133.79L143.35,138.13L158.58,143.49L190.54,153.39L206.11,157.7L235.22,165.07L252.82,170.65L263.57,174.78L307.32,192.72L325.25,200.71L335.47,206.07L349.21,214.6L360.6,222.44L372.5,231.48L381.38,238.75L388.04,245.02L394.09,251.89L398.75,258.41L403.02,266.54L407.17,278.51L410.57,291.92L413.44,307.82L418.36,344.43L423.86,396.11L428.74,437.4L432.27,479.99L434.27,499.52L437.23,521.26L440.69,540.58L442.87,550.75L445.46,560.81L460.33,608.18L465.25,621.14L469.83,631.74L472.58,636.8L475.66,640.2" stroke="#ebff0c" stroke-dasharray="8.5,3.7"/>
<path d="M96.6,31.62L99.2,60.34L101.78,83.28L103.31,93.49L105.1,101.3L106.42,105.63L107.73,108.7L112.3,116.39L116.46,121.55L121.66,125.8L128.05,130.37L133.04,132.97L143.66,137.28L158.86,142.64L190.79,152.53L206.34,156.83L235.46,164.2L253.12,169.8L263.91,173.95L307.66,191.89L325.64,199.9L335.92,205.29L349.7,213.85L361.12,221.71L373.06,230.77L381.97,238.07L388.69,244.4L394.8,251.33L399.51,257.93L403.85,266.19L408.03,278.26L411.45,291.73L414.33,307.68L419.25,344.33L424.76,396.01L429.63,437.3L433.16,479.91L435.17,499.42L438.12,521.12L441.57,540.41L443.75,550.54L446.32,560.56L461.18,607.88L466.09,620.8L470.64,631.35L473.32,636.29L476.31,639.58" stroke="#ebff0c" stroke-dasharray="2.3,3.8"/>
<path d="M95.7,31.7L96.64,55.16L98.22,78.58L100,93.57L102.06,103.41L103.57,108.21L104.97,111.25L110.63,119.55L112.84,124.04L116,135.16L118.44,146.45L120.43,152.81L130.43,177.63L136.24,189.56L147.41,208.11L157.73,223.39L167.21,235.12L178.61,247.35L192.99,261.27L203.16,269.86L216.65,279.68L241.67,296.48L260.13,308.05L290.54,325.48L320.25,344.11L327.94,347.42L347.34,352.73L359.89,357.48L367.32,361.35L384,372.53L391.52,376.22L399.42,378.99L431.51,388.7L442.6,392.53L453.37,397.21L475.73,408.72L488.1,413.9L499.23,417.65L529.77,426.74L542.52,430.92L587.92,448.37L618.36,457.79L642.18,465.88L651.58,469.47L670.07,477.4L677.93,480.32L687.53,483.27L727.81,494.45L739.02,497.91L746.87,500.86L771.43,511.57L809.54,524.52L841.09,535.85L851.95,540.24L874.68,551L902.35,563.04L911.16,567.88L931.14,580.08L937.07,583L950.64,588.81L956.5,591.92L960.64,594.74L965.88,598.93L1006.09,633.37L1010.79,637.73L1012.93,640.2" stroke="#ebff0c" stroke-dasharray="8.5,3.7"/>
<path d="M96.6,31.67L97.54,55.11L99.11,78.5L100.89,93.43L102.93,103.17L104.41,107.89L105.75,110.82L111.39,119.06L113.69,123.72L116.87,134.95L119.31,146.23L121.27,152.51L131.25,177.27L137.03,189.13L148.17,207.63L158.46,222.86L167.89,234.52L179.26,246.72L193.59,260.6L203.71,269.15L217.16,278.94L242.17,295.73L260.59,307.27L291.01,324.71L320.67,343.31L328.23,346.57L347.61,351.87L360.26,356.66L367.79,360.58L384.45,371.76L391.85,375.38L399.69,378.13L431.78,387.85L442.93,391.69L453.76,396.4L476.12,407.91L488.41,413.06L499.5,416.79L530.03,425.88L542.82,430.07L588.22,447.52L618.63,456.93L642.49,465.03L651.92,468.64L670.4,476.56L678.21,479.46L687.78,482.4L728.06,493.59L739.31,497.06L747.21,500.03L771.75,510.72L809.84,523.68L841.4,535.01L852.31,539.42L875.05,550.18L902.75,562.23L911.62,567.11L931.57,579.29L937.44,582.18L951.03,587.99L956.97,591.15L961.18,594.02L966.46,598.25L1006.69,632.69L1011.44,637.11L1013.63,639.63" stroke="#ebff0c" stroke-dasharray="2.3,3.8"/>
<path d="M95.7,31.7L96.56,123.43L98.45,204.12L99.03,215.11L100.16,227.89L100.99,249.89L102.15,268.2L104.22,286.42L106.81,300.83L112.67,323.9L116.67,336.08L122.56,349.45L126.03,355.89L129.92,362.09L134.28,367.97L138.97,373.56L149.21,383.97L161.85,394.49L176.76,405L192.3,414.54L206.91,422.12L249.55,438.86L266.75,445.2L291.15,453.19L315.76,460.51L347.86,468.27L404.7,482.9L463.77,496.02L494.54,501.1L532.34,508.57L644.18,529.22L821.12,560.96L887.29,575.95L905.05,580.51L940.21,590.95L957.88,595.58L963.06,597.4L969.67,600.55L975.99,604.25L982.1,608.31L995.18,618.29L1001.87,624.48L1016.54,640.2" stroke="#ebff0c" stroke-dasharray="8.5,3.7"/>
<path d="M96.6,31.69L97.46,123.41L99.35,204.09L99.93,215.05L101.06,227.85L101.89,249.85L103.04,268.12L105.11,286.29L107.69,300.63L113.05,321.89L116.88,334.06L122.56,347.42L125.91,353.86L129.66,360.07L133.86,365.98L138.45,371.6L143.33,376.97L149.82,383.31L162.39,393.77L177.25,404.24L192.75,413.76L207.28,421.3L249.88,438.02L267.04,444.35L291.42,452.33L316,459.64L348.07,467.39L404.91,482.02L463.93,495.14L494.7,500.22L532.5,507.69L644.35,528.34L821.29,560.08L887.5,575.08L905.29,579.64L940.45,590.09L958.15,594.72L963.39,596.56L970.1,599.75L976.47,603.49L982.62,607.57L995.77,617.61L1002.51,623.85L1017.19,639.57" stroke="#ebff0c" stroke-dasharray="2.3,3.8"/>
<path d="M95.7,31.7L969.88,31.55L991.52,31.89L993.66,32.11L997.58,33.47L999.28,34.58L1000.74,36.02L1001.89,37.79L1003.25,41.88L1005.2,52.51L1007.24,71.88L1009.57,112.91L1011.21,160.48L1015.03,322.72L1017.25,450.36L1019.55,543.37L1020.88,571.47L1022.54,593.04L1025.95,623.14L1028.8,640.2" stroke="#ffab00" stroke-dasharray="8.5,3.7"/>
<path d="M95.7,30.8L969.88,30.65L991.58,30.99L993.83,31.22L998,32.67L999.85,33.89L1001.43,35.45L1002.69,37.37L1004.12,41.67L1006.09,52.38L1008.14,71.81L1010.36,110.7L1011.57,140.99L1013.12,201.56L1016.26,337.84L1018.91,487.12L1020.45,543.34L1021.78,571.41L1023.44,592.96L1026.84,623.02L1029.68,640.04" stroke="#ffab00" stroke-dasharray="2.3,3.8"/>
<path d="M95.7,31.7L101.64,84.71L102.93,92.72L104.51,99.49L106.58,106.12L109.31,111.14L115.55,119.24L119.82,123.03L127.45,127.99L131.44,130.22L137.78,132.98L146.47,136.19L165.2,142.27L187.45,148.76L206.49,153.84L235.8,160.98L253.62,166.12L270.01,171.85L303.54,184.66L316.46,189.83L327.07,194.52L337.48,199.64L347.49,205.49L357.14,211.92L368.21,220.28L380.56,230.69L388.08,237.8L394.87,245.58L400.18,253.07L404.56,261.17L408.13,270.94L411.64,284.38L414.76,301.47L419.25,337.14L424.94,393.69L430.4,439.78L433.48,479.1L434.98,494.11L437.97,515.95L441.84,537.64L445.02,552.39L447.67,562.48L461.28,605.62L466.55,619.75L471.48,631.52L474.14,636.66L477.09,640.2" stroke="#ffab00" stroke-dasharray="8.5,3.7"/>
<path d="M96.59,31.6L102.38,83.44L103.6,91.42L105.08,98.15L107.01,104.73L109.46,109.7L115.48,117.8L117.77,120.2L120.35,122.3L127.92,127.23L131.84,129.41L138.11,132.15L146.77,135.34L165.47,141.41L187.7,147.89L206.71,152.96L236.02,160.11L253.9,165.27L270.32,171.01L303.86,183.82L317.88,189.46L328.5,194.19L338.93,199.4L347.97,204.73L357.66,211.18L368.77,219.58L381.16,230.01L388.73,237.17L395.58,245.02L400.94,252.59L405.38,260.8L408.99,270.68L412.52,284.18L415.65,301.34L420.14,337.04L425.83,393.6L431.3,439.68L434.37,479.03L435.87,494.01L438.85,515.81L442.73,537.47L445.9,552.18L448.53,562.23L462.13,605.33L467.38,619.42L472.3,631.14L474.9,636.18L477.76,639.6" stroke="#ffab00" stroke-dasharray="2.3,3.8"/>
<path d="M95.7,31.7L96.84,55.11L98.65,78.48L100.35,91.76L102.79,103.22L104.3,108.01L105.64,111.07L111.16,119.45L113.5,123.86L116.92,133.12L122.36,150.41L128.2,164.27L134.46,177.89L141.11,189.31L156.88,212.83L163.7,222.36L170.08,230.11L181.68,242.12L195.23,254.43L205.58,262.74L216.48,270.36L250.25,291.96L261.68,298.93L273.35,305.46L304.32,321.57L314.41,327.37L328.63,336.19L336.24,339.64L355.55,345.14L366.52,349.26L375.45,353.85L390.93,363.75L399.93,368.16L410.97,372.08L441.43,381.18L450.94,384.41L461.69,389.07L484.14,400.33L496.53,405.42L512.41,410.72L550.84,422.45L561.84,426.49L596.13,439.98L628.01,450.2L654.92,459.49L686.01,471.9L746.44,491.23L754.28,494.18L777.45,503.77L799.64,511.34L823.25,519.89L846.74,528.74L857.49,533.32L878.52,543.66L901.5,553.77L910.52,558.18L917.76,562.38L938.72,576.03L955.94,585.44L961.56,588.9L970.79,596.09L990.55,614.04L1007.68,631.49L1014.71,640.2" stroke="#ffab00" stroke-dasharray="8.5,3.7"/>
<path d="M96.6,31.66L97.73,55.06L99.55,78.39L101.24,91.62L103.66,102.98L105.14,107.69L106.44,110.66L111.91,118.96L114.32,123.49L117.77,132.83L123.2,150.09L129.02,163.91L135.26,177.48L141.87,188.83L157.63,212.32L164.42,221.82L170.75,229.52L182.3,241.47L195.82,253.74L206.12,262.02L216.98,269.61L250.73,291.2L262.13,298.16L273.77,304.66L304.76,320.79L314.87,326.6L329.06,335.4L336.54,338.79L355.82,344.28L366.88,348.44L375.91,353.08L391.38,362.97L400.28,367.33L411.24,371.23L441.69,380.32L451.26,383.57L462.09,388.26L484.51,399.51L496.84,404.57L512.68,409.86L551.13,421.6L562.17,425.65L596.43,439.13L628.3,449.34L655.24,458.65L686.31,471.06L746.74,490.39L754.62,493.34L777.77,502.92L799.94,510.49L823.57,519.04L847.07,527.91L857.87,532.51L878.9,542.85L901.88,552.95L910.95,557.39L918.23,561.62L939.18,575.26L956.38,584.66L962.07,588.16L971.37,595.41L991.18,613.39L1008.35,630.88L1015.45,639.69" stroke="#ffab00" stroke-dasharray="2.3,3.8"/>
<path d="M95.7,31.7L96.64,119.66L98.8,207.59L101.95,264.29L103.78,280.68L105.87,293.32L108.96,305.71L113.95,323.31L116.8,332.02L121.95,343.71L128.2,354.84L132.27,360.91L135.62,365.24L140.44,370.71L145.56,375.9L156.56,385.47L169.84,395.11L179.09,400.92L190.14,407.25L201.45,413.17L209.71,417.06L219.9,421.15L264.62,437.41L299.4,448.96L322.17,455.91L409.28,477.65L448.51,486.85L464.64,490.27L502.58,496.7L538.54,503.81L635.76,522.24L718.76,536.98L778.09,548.55L828.52,557.97L882.1,570.14L906.91,576.61L959.42,592.61L966.24,595.19L972.77,598.48L979.02,602.3L985.04,606.46L992.26,612.07L999.12,618.07L1005.33,624.68L1017.3,640.2" stroke="#ffab00" stroke-dasharray="8.5,3.7"/>
<path d="M96.6,31.69L97.54,119.64L99.7,207.56L102.84,264.22L104.67,280.56L106.75,293.14L109.83,305.47L114.81,323.06L117.64,331.7L122.75,343.3L128.96,354.36L132.99,360.38L136.32,364.67L141.1,370.1L146.19,375.25L157.12,384.77L170.34,394.36L179.55,400.15L190.58,406.46L201.85,412.37L210.07,416.24L220.22,420.3L264.91,436.56L299.67,448.1L322.41,455.04L409.5,476.77L448.71,485.97L464.81,489.39L502.75,495.81L538.7,502.92L635.92,521.35L718.92,536.09L778.26,547.67L828.69,557.09L882.31,569.27L907.16,575.74L959.7,591.75L966.6,594.36L973.21,597.7L979.51,601.55L985.57,605.73L992.83,611.37L999.74,617.42L1006.02,624.11L1018,639.64" stroke="#ffab00" stroke-dasharray="2.3,3.8"/>
<path d="M95.7,31.7L973.92,31.54L995.6,31.98L999.74,32.76L1001.66,33.56L1003.38,34.74L1004.74,36.37L1005.61,38.35L1006.56,42.57L1008.98,59.75L1010.67,85.71L1012.01,118.2L1012.69,144.21L1016.28,330.66L1017.98,439.07L1020.21,530.11L1021.56,560.44L1023.64,588.55L1027.03,620.9L1029.84,640.2" stroke="#ff5500" stroke-dasharray="8.5,3.7"/>
<path d="M95.7,30.8L973.93,30.64L995.69,31.08L1000.02,31.9L1002.09,32.77L1003.99,34.07L1005.51,35.9L1006.46,38.05L1007.45,42.41L1009.87,59.66L1011.57,85.67L1012.91,118.17L1013.59,144.19L1017.18,330.64L1018.88,439.05L1021.11,530.08L1022.46,560.39L1024.53,588.47L1027.93,620.79L1030.73,640.06" stroke="#ff5500" stroke-dasharray="2.3,3.8"/>
<path d="M95.7,31.7L98.58,52.5L102.64,86.11L103.91,92.99L105.35,98.64L107.52,105.29L109.76,109.35L115.04,115.42L118.32,118.66L121.03,120.83L126,123.75L134.33,127.69L141.95,130.57L153.02,134.22L169.82,139.08L192.38,145.04L240.09,156.3L259.25,161.46L274.85,166.24L294.73,172.92L313.42,179.55L327.52,185.15L340.26,190.97L349.56,195.87L358.45,201.46L366.87,207.72L377.48,216.8L389.18,228.12L395.26,235.12L401.29,243.63L406.35,252.75L410.21,262.47L413.77,276L416.64,292.06L420.87,329.16L426.97,395.42L432.44,440.62L436.26,489.5L438.98,509.16L443.15,532.13L446.49,548.13L449.52,560.61L453.05,572.95L458.7,590.75L465.23,609.49L471.95,626.92L475.76,635.44L476.91,637.46L479.06,640.2" stroke="#ff5500" stroke-dasharray="8.5,3.7"/>
<path d="M96.59,31.58L99.47,52.38L103.37,84.83L104.54,91.67L105.9,97.28L108.35,104.95L110.49,108.82L115.69,114.79L118.93,118L121.54,120.09L126.42,122.96L134.68,126.86L152.18,133.01L170.06,138.21L191.48,143.88L240.3,155.43L260.62,160.92L279.56,166.82L301.63,174.37L317.02,179.94L328.95,184.79L340.66,190.16L350,195.09L358.96,200.71L367.43,207.02L378.09,216.14L389.83,227.5L395.97,234.56L402.05,243.15L407.17,252.36L411.07,262.2L414.64,275.81L417.53,291.94L421.77,329.08L427.86,395.33L433.34,440.53L437.15,489.4L439.87,509.01L444.04,531.95L447.37,547.93L450.39,560.37L453.91,572.69L459.56,590.47L466.07,609.18L472.78,626.57L476.56,635.02L479.77,639.64" stroke="#ff5500" stroke-dasharray="2.3,3.8"/>
<path d="M95.7,31.7L96.98,53.38L99.26,78.34L101.18,91.56L103.79,102.95L105.31,107.73L107.34,112.3L112.76,120.72L116.67,128.02L126.49,150.79L135.86,170.34L139.99,177.55L143.75,183.01L156.93,200.08L169.55,217.75L174.82,224.23L182.97,232.59L191.68,240.36L203.4,249.67L212.92,256.34L263.06,286.14L279.14,295.01L323.06,314.92L328.92,318.09L340.21,325.23L344.64,327.57L352.45,330.5L368.5,335.15L377.81,338.83L385.24,342.66L401.03,352L413.12,357.66L422.5,361.19L433.59,364.88L452.95,370.06L460.91,372.59L471.7,377.1L495.77,388.72L508.18,393.68L531.95,401.61L563.94,411.26L573.36,414.71L607.48,428.37L667.59,448.81L703.44,462.61L756.72,482L786.38,493.23L827.25,507.97L849.03,516.47L862.8,522.47L886.55,534.7L910.85,545.83L921.2,551.26L933.75,559.51L968.58,584.72L976.31,591.07L983.77,597.77L990.98,604.71L996.62,610.81L1002.9,618.47L1009.73,627.66L1013.25,633.1L1017.17,640.2" stroke="#ff5500" stroke-dasharray="8.5,3.7"/>
<path d="M96.6,31.65L97.88,53.31L100.15,78.23L102.07,91.4L104.66,102.71L106.15,107.43L108.13,111.87L113.54,120.26L117.49,127.63L127.32,150.42L136.65,169.93L140.75,177.07L144.47,182.47L157.66,199.55L170.27,217.21L175.49,223.64L183.59,231.94L192.26,239.67L203.94,248.95L213.41,255.59L263.52,285.37L279.54,294.21L323.46,314.11L329.38,317.31L340.67,324.45L345.02,326.75L352.72,329.64L368.78,334.3L378.19,338.02L385.68,341.87L401.46,351.21L413.46,356.83L422.8,360.34L433.86,364.02L453.2,369.19L461.22,371.74L472.08,376.28L496.13,387.9L508.49,392.83L532.22,400.76L564.23,410.41L573.68,413.87L607.79,427.52L667.9,447.97L703.76,461.77L757.03,481.15L786.69,492.39L827.56,507.12L849.37,515.64L863.18,521.66L886.94,533.89L911.24,545.02L921.65,550.48L934.28,558.77L969.13,584.01L976.9,590.39L984.38,597.11L991.62,604.08L997.3,610.22L1003.61,617.92L1010.47,627.14L1014.02,632.64L1017.96,639.78" stroke="#ff5500" stroke-dasharray="2.3,3.8"/>
<path d="M95.7,31.7L96.75,115.87L99.31,214.64L100.73,245.7L101.75,260.3L103.64,276.66L105.76,289.28L108.52,299.88L118.05,329.45L121.76,337.79L127.22,347.27L135.51,359.28L142.83,367.41L153.77,377.04L167.07,386.65L177.99,393.25L189.3,399.14L207.47,407.59L221,413.11L250.36,423.32L285.17,434.53L318.11,445.64L330.35,449.39L342.73,452.66L408.53,468.59L442.19,477.22L458.25,480.84L474.43,483.91L514.11,490.68L646.96,516.83L710.06,527.8L731.63,531.87L797.86,545.83L855.28,557.23L883.75,564L908.43,570.83L960.54,587.92L970.64,592.13L978.61,596.58L986.18,601.71L991.96,606.19L998.8,612.23L1003.88,617.46L1009.37,624.67L1018.34,640.2" stroke="#ff5500" stroke-dasharray="8.5,3.7"/>
<path d="M96.6,31.69L97.65,115.85L100.21,214.6L101.63,245.65L102.65,260.23L104.54,276.53L106.64,289.1L109.38,299.62L118.9,329.13L122.56,337.38L127.98,346.79L136.21,358.72L143.46,366.77L154.33,376.34L167.57,385.9L178.43,392.46L189.69,398.33L207.83,406.77L221.32,412.26L250.65,422.47L285.45,433.67L318.38,444.78L330.59,448.53L342.95,451.78L408.74,467.71L442.4,476.35L458.43,479.95L474.58,483.02L514.28,489.8L647.13,515.95L710.21,526.91L731.81,530.99L798.04,544.94L855.47,556.35L883.98,563.13L908.69,569.97L960.85,587.07L971.03,591.32L979.09,595.82L986.71,600.98L992.53,605.5L999.42,611.58L1003.31,615.5L1006.94,619.68L1010.13,624.19L1019.11,639.73" stroke="#ff5500" stroke-dasharray="2.3,3.8"/>
<path d="M95.7,31.7L977.65,31.54L999.37,31.98L1003.63,32.71L1005.57,33.67L1007.1,35.2L1008.02,37.16L1009.93,47.84L1011.58,62.95L1012.67,82.47L1014.04,130.24L1018.59,429.98L1020.82,521.19L1022.09,551.58L1023.74,575.41L1027.69,616.5L1030.7,640.2" stroke="#e80000" stroke-dasharray="8.5,3.7"/>
<path d="M95.7,30.8L977.65,30.64L999.43,31.08L1003.94,31.86L1006.09,32.94L1007.84,34.68L1008.87,36.85L1010.5,45.55L1012.3,60.71L1013.48,80.26L1014.94,130.23L1019.45,427.8L1021.72,521.16L1022.99,551.53L1024.63,575.34L1028.58,616.4L1031.59,640.07" stroke="#e80000" stroke-dasharray="2.3,3.8"/>
<path d="M95.7,31.7L99.24,53.71L103.35,86.31L104.45,92.07L105.95,97.75L108.63,105.51L110.39,108.55L115.25,113.62L122.52,119.55L126.64,121.81L134.26,124.87L156.63,131.95L191.89,140.88L241.14,151.86L267.3,158.5L299.98,167.99L318.92,174.28L330.98,178.86L343.86,184.56L353.31,189.27L360.39,193.42L368.05,198.85L377.85,207.25L387.86,217.15L395.69,225.89L401.84,234.46L405.44,240.51L408.11,245.74L412.44,256.64L415.71,269.12L418.5,285.31L422.06,319.15L425.79,367.12L427.62,386.98L429.99,409.15L434.27,442.91L437.25,485.05L439.4,501.34L442.69,519.82L449.93,554.27L453.4,567.92L456.75,579.17L462.79,596.94L472.59,623.35L477.58,635.25L480.7,640.2" stroke="#e80000" stroke-dasharray="8.5,3.7"/>
<path d="M96.59,31.56L100.13,53.59L104.23,86.17L106.81,97.49L109.45,105.14L111.12,108.01L115.86,112.95L123.02,118.8L127.02,120.99L134.56,124.02L156.87,131.09L192.1,140L241.35,150.98L267.54,157.63L300.25,167.14L319.22,173.43L331.32,178.03L344.24,183.74L353.74,188.47L360.88,192.66L368.61,198.14L378.46,206.59L388.51,216.53L396.39,225.32L402.6,233.98L406.23,240.08L408.92,245.36L413.3,256.36L416.59,268.93L419.39,285.18L422.95,319.07L426.68,367.04L428.52,386.89L430.89,409.05L435.17,442.83L438.15,484.96L440.29,501.2L443.57,519.65L450.81,554.07L453.65,565.42L457.25,577.78L463.64,596.64L473.43,623.02L478.39,634.86L481.43,639.67" stroke="#e80000" stroke-dasharray="2.3,3.8"/>
<path d="M95.7,31.7L97.64,58.31L99.36,74.91L100.71,84.82L102.22,93.02L104.17,101.13L106.14,107.5L108.06,112.12L119.46,130.56L124.96,140.86L136.13,163.24L141.13,171.91L144.94,177.38L162.37,197.59L175.23,215.05L181.7,222.67L188.94,229.58L195.33,234.94L203.31,240.98L211.55,246.65L223,253.49L246.65,265.87L274.23,281.47L287.58,288.34L299.86,293.53L321.76,301.65L332.59,306.01L340.02,309.79L351.23,317.02L357.21,319.96L361.92,321.67L377.89,326.46L384.13,328.81L391.62,332.48L410.59,342.98L425.84,349.73L443.07,356.03L462.49,360.85L470.46,363.3L479.72,367.09L505.39,379.12L517.83,383.96L547.85,394.1L568.7,400.06L576.63,402.63L616.88,418.76L687.78,443.41L703.35,449.39L765.22,474.35L810.79,490.57L837.31,500.61L852.79,506.83L866.5,512.94L892.96,527.13L915.59,537.78L925.95,543.17L937.16,550.39L951.62,561.69L984.44,590.03L991.74,596.88L997.44,602.95L1004.57,612.19L1010.8,622.07L1014.76,629.4L1019.2,640.2" stroke="#e80000" stroke-dasharray="8.5,3.7"/>
<path d="M96.6,31.65L98.54,58.23L100.25,74.8L101.59,84.68L103.1,92.84L105.03,100.89L106.99,107.2L108.86,111.71L120.25,130.12L125.76,140.45L136.92,162.81L141.89,171.43L145.65,176.84L163.07,197.03L175.94,214.5L182.35,222.04L189.53,228.91L195.89,234.24L203.83,240.25L212.04,245.9L223.44,252.7L247.07,265.07L274.66,280.68L287.96,287.53L300.19,292.7L322.08,300.81L332.96,305.19L339.01,308.17L351.68,316.24L357.55,319.13L363.77,321.31L378.18,325.6L384.49,327.98L392.04,331.69L410.99,342.17L426.18,348.9L443.33,355.17L462.72,359.98L470.76,362.45L480.09,366.27L505.75,378.29L518.14,383.11L548.12,393.24L568.96,399.19L576.93,401.78L617.19,417.91L688.09,442.56L703.68,448.55L765.54,473.51L811.1,489.72L837.64,499.78L853.14,506L866.89,512.13L893.37,526.33L915.98,536.97L926.39,542.39L937.68,549.66L952.19,561L985.04,589.36L992.37,596.24L998.12,602.36L1005.31,611.68L1011.58,621.61L1015.58,629.02L1020.03,639.85" stroke="#e80000" stroke-dasharray="2.3,3.8"/>
<path d="M95.7,31.7L96.85,113.93L98.39,159.59L99.98,230.85L100.81,247.28L102.01,261.85L103.65,274.53L105.48,285.34L108.17,295.97L113.79,311.42L118.96,327.04L121.85,333.74L125.42,340.12L134.78,353.64L141.87,361.99L151.42,370.49L164.77,380.1L175.72,386.7L185.51,391.64L200.59,398.2L221,406.22L252.17,416.72L290.68,428.27L328.67,441.43L339.16,444.61L351.53,447.9L413.79,462.55L443.75,470.77L457.98,474.11L524.56,485.87L651.76,511.52L709.4,521.41L730.95,525.44L752.41,529.98L814.81,544.04L854.3,551.6L868.6,554.62L888.07,559.62L907.37,565.25L926.49,571.45L960.97,583.57L972.66,588.76L979.05,592.3L983.66,595.27L989.6,599.53L996.62,605.37L1001.89,610.43L1007.87,617.34L1009.95,620.34L1012.6,625.14L1019.2,640.2" stroke="#e80000" stroke-dasharray="8.5,3.7"/>
<path d="M96.6,31.69L97.75,113.91L99.29,159.57L100.88,230.81L101.71,247.22L102.9,261.75L104.54,274.4L106.36,285.17L109.03,295.69L114.64,311.12L119.8,326.72L122.65,333.34L126.18,339.65L135.5,353.1L142.52,361.36L151.98,369.79L165.26,379.34L176.15,385.91L185.89,390.82L200.93,397.36L221.31,405.38L252.44,415.86L290.96,427.42L328.95,440.57L339.41,443.74L351.75,447.03L414,461.68L443.98,469.9L458.16,473.23L524.73,484.99L651.93,510.64L709.55,520.52L731.13,524.55L752.6,529.1L814.99,543.16L854.47,550.72L868.8,553.75L888.31,558.75L907.63,564.39L926.78,570.59L961.3,582.73L973.06,587.96L979.52,591.53L984.16,594.52L990.14,598.82L997.23,604.7L1002.54,609.81L1008.59,616.79L1010.71,619.86L1013.4,624.74L1020.01,639.81" stroke="#e80000" stroke-dasharray="2.3,3.8"/>
</g>
<g clip-path="url(#ca)" fill="none" stroke="#000" stroke-width="2.6" stroke-linejoin="round">
<path d="M95.7,31.7L966.29,31.57L987.83,32.01L989.95,32.36L991.84,33.38L993.43,34.83L994.72,36.55L996.42,40.5L998.2,46.72L1000.27,57.29L1002.21,74.41L1006.07,125.99L1009.03,194.88L1010.53,253.04L1013.2,332.73L1016.6,513.71L1018.16,569.72L1019.32,589.08L1021.38,608.36L1024.06,627.57L1026.8,640.2"/>
<path d="M95.7,31.7L96.81,52.31L98.14,67.15L100.89,91.06L103.28,103.44L106.18,112.13L110.23,120.35L113.77,124.85L122.9,133.54L127.75,136.57L136.06,140.44L153.12,147.2L166.06,151.87L193.3,160.77L228.7,170.36L242.84,175.07L253.4,179.52L277.25,190.75L317.03,208.51L327.12,213.95L349.61,227.71L374.34,244.34L381.58,249.97L387.46,255.42L392.06,260.53L396.07,266.12L398.79,271.16L400.99,276.45L404.04,285.1L406.57,293.91L410,309.59L414.53,337.89L417.75,361.74L426.02,433.49L429.94,478.03L433.32,511.1L435.64,528.14L438.7,545.06L442.51,560.64L448.71,579.12L455.07,601.14L458.65,612.03L463.29,623.76L467.09,632.1L469.99,637.04L473.3,640.2"/>
<path d="M95.7,31.7L96.38,56.92L97.49,78.76L98.96,93.82L100.87,103.72L103.04,110.08L104.78,112.95L109.77,119.72L111.27,122.72L112.71,129.28L113.81,137.62L114.46,146L115.33,150.97L116.73,155.82L127.21,186L130.32,193.82L133.86,201.44L137.78,208.88L142.93,217.56L147.59,224.56L153.56,232.69L167.36,249.65L184.13,268.49L190.04,274.47L196.25,280.15L208.03,289.66L224.33,301.55L239.54,312.09L271.91,333.27L297.69,352.14L304.91,356.43L311.05,359.18L317.46,361.22L333.78,365.28L346.4,369.92L353.89,373.74L368.73,384.77L373.02,387.42L376.04,388.89L382.37,391.18L396.98,395.11L406.61,398.15L430.39,406.56L441.1,411.42L463.34,423.33L474.18,427.93L485.36,431.61L519.25,441.55L533.49,446.68L572.76,461.69L583.98,465.27L603.42,470.69L622.6,476.98L635.2,481.69L655.1,490.73L662.97,493.71L674.32,496.8L717.02,506.26L728.34,509.48L736.14,512.6L752.71,520.83L760.46,524.08L781.33,530.6L840.28,550.51L864.85,561.48L883.58,569.01L892.82,573.06L913.41,584.47L920.95,588.2L927.28,590.46L941.9,594.38L948.12,596.91L953.81,600.5L968.02,612.33L978.92,620.23L990.1,627.71L1006.04,637.1L1010,640.2"/>
<path d="M95.7,31.7L96.45,136.46L97.08,175.05L97.93,200.77L98.84,215.44L100.31,228.22L101.49,261.28L102.67,277.78L105.33,299.67L108.81,317.71L113.13,333.68L116.03,342.4L119.33,350.97L122.44,357.63L125.1,362.46L132.25,373.15L141.54,384.54L146.64,389.84L153.34,396.12L170.32,410.19L185.25,420.9L194.64,426.67L202.83,430.84L221.59,438.38L248.53,450.16L265.75,456.57L283.29,462.06L306.31,468.47L340.31,476.4L382.87,488L397.13,491.58L422.41,496.38L454.58,504.07L487.21,509.48L523.26,516.7L577.61,525.95L658.96,540.86L713.27,550.41L756.76,557.79L798.54,564.2L813.03,566.72L823.8,569.07L846.93,575.05L891.93,584.32L934.49,595.92L954.29,599.97L959.52,601.7L964.55,603.96L971,607.48L978.78,612.36L992.35,621.82L1006.55,633.49L1015.3,640.2"/>
</g>
<g fill="#000">
<rect x="133.6" y="205.1" width="9.4" height="9.4"/>
<rect x="190" y="274.1" width="9.4" height="9.4"/>
<rect x="266.1" y="327.8" width="9.4" height="9.4"/>
<rect x="347.6" y="368.1" width="9.4" height="9.4"/>
<rect x="431" y="404.1" width="9.4" height="9.4"/>
<rect x="515.9" y="437.3" width="9.4" height="9.4"/>
<rect x="601" y="466.7" width="9.4" height="9.4"/>
<rect x="689.2" y="496.4" width="9.4" height="9.4"/>
<rect x="774.5" y="525.2" width="9.4" height="9.4"/>
<rect x="860.2" y="556.8" width="9.4" height="9.4"/>
<rect x="943.6" y="592.3" width="9.4" height="9.4"/>
<path d="M111.2,115.4l6.4,6.4l-6.4,6.4l-6.4,-6.4z"/>
<path d="M192.4,154.1l6.4,6.4l-6.4,6.4l-6.4,-6.4z"/>
<path d="M277.8,184.6l6.4,6.4l-6.4,6.4l-6.4,-6.4z"/>
<path d="M359,227.4l6.4,6.4l-6.4,6.4l-6.4,-6.4z"/>
<path d="M408.5,295.6l6.4,6.4l-6.4,6.4l-6.4,-6.4z"/>
<path d="M421.8,391.1l6.4,6.4l-6.4,6.4l-6.4,-6.4z"/>
<path d="M430.3,475.4l6.4,6.4l-6.4,6.4l-6.4,-6.4z"/>
<path d="M448.8,573l6.4,6.4l-6.4,6.4l-6.4,-6.4z"/>
<path d="M96.5,25.7l6.2,12h-12.4z"/>
<path d="M187.9,25.7l6.2,12h-12.4z"/>
<path d="M279.4,25.7l6.2,12h-12.4z"/>
<path d="M370.9,25.7l6.2,12h-12.4z"/>
<path d="M462.4,25.7l6.2,12h-12.4z"/>
<path d="M553.9,25.7l6.2,12h-12.4z"/>
<path d="M645.4,25.7l6.2,12h-12.4z"/>
<path d="M736.9,25.7l6.2,12h-12.4z"/>
<path d="M828.4,25.7l6.2,12h-12.4z"/>
<path d="M919.9,25.7l6.2,12h-12.4z"/>
<path d="M999.8,48.5l6.2,12h-12.4z"/>
<path d="M1006.1,120.4l6.2,12h-12.4z"/>
<path d="M1010,246l6.2,12h-12.4z"/>
<path d="M1012.5,334l6.2,12h-12.4z"/>
<path d="M1015.3,438.6l6.2,12h-12.4z"/>
<path d="M1017.3,536.3l6.2,12h-12.4z"/>
<path d="M1022,607.3l6.2,12h-12.4z"/>
<path transform="translate(100.2,226.6)" d="M0,-6.6L1.48,-2.04L6.28,-2.04L2.4,0.78L3.88,5.34L0,2.52L-3.88,5.34L-2.4,0.78L-6.28,-2.04L-1.48,-2.04Z"/>
<path transform="translate(106.8,308.1)" d="M0,-6.6L1.48,-2.04L6.28,-2.04L2.4,0.78L3.88,5.34L0,2.52L-3.88,5.34L-2.4,0.78L-6.28,-2.04L-1.48,-2.04Z"/>
<path transform="translate(144.9,388.1)" d="M0,-6.6L1.48,-2.04L6.28,-2.04L2.4,0.78L3.88,5.34L0,2.52L-3.88,5.34L-2.4,0.78L-6.28,-2.04L-1.48,-2.04Z"/>
<path transform="translate(221.4,438.3)" d="M0,-6.6L1.48,-2.04L6.28,-2.04L2.4,0.78L3.88,5.34L0,2.52L-3.88,5.34L-2.4,0.78L-6.28,-2.04L-1.48,-2.04Z"/>
<path transform="translate(306.8,468.6)" d="M0,-6.6L1.48,-2.04L6.28,-2.04L2.4,0.78L3.88,5.34L0,2.52L-3.88,5.34L-2.4,0.78L-6.28,-2.04L-1.48,-2.04Z"/>
<path transform="translate(397.2,491.6)" d="M0,-6.6L1.48,-2.04L6.28,-2.04L2.4,0.78L3.88,5.34L0,2.52L-3.88,5.34L-2.4,0.78L-6.28,-2.04L-1.48,-2.04Z"/>
<path transform="translate(486.8,509.4)" d="M0,-6.6L1.48,-2.04L6.28,-2.04L2.4,0.78L3.88,5.34L0,2.52L-3.88,5.34L-2.4,0.78L-6.28,-2.04L-1.48,-2.04Z"/>
<path transform="translate(577.9,526)" d="M0,-6.6L1.48,-2.04L6.28,-2.04L2.4,0.78L3.88,5.34L0,2.52L-3.88,5.34L-2.4,0.78L-6.28,-2.04L-1.48,-2.04Z"/>
<path transform="translate(667,542.3)" d="M0,-6.6L1.48,-2.04L6.28,-2.04L2.4,0.78L3.88,5.34L0,2.52L-3.88,5.34L-2.4,0.78L-6.28,-2.04L-1.48,-2.04Z"/>
<path transform="translate(756.2,557.7)" d="M0,-6.6L1.48,-2.04L6.28,-2.04L2.4,0.78L3.88,5.34L0,2.52L-3.88,5.34L-2.4,0.78L-6.28,-2.04L-1.48,-2.04Z"/>
<path transform="translate(846.7,575)" d="M0,-6.6L1.48,-2.04L6.28,-2.04L2.4,0.78L3.88,5.34L0,2.52L-3.88,5.34L-2.4,0.78L-6.28,-2.04L-1.48,-2.04Z"/>
</g>
<rect x="95.7" y="1.7" width="953.5" height="638.5" fill="none" stroke="#000" stroke-width="2.9"/>
<path d="M87.7,640.2H95.7M87.7,518.5H95.7M87.7,396.8H95.7M87.7,275.1H95.7M87.7,153.4H95.7M87.7,31.7H95.7M95.7,640.2V648.2M209.2,640.2V648.2M322.7,640.2V648.2M436.2,640.2V648.2M549.7,640.2V648.2M663.2,640.2V648.2M776.7,640.2V648.2M890.2,640.2V648.2M1003.7,640.2V648.2" stroke="#000" stroke-width="2.9" fill="none"/>
<text x="66.39" y="649.1" font-family="Liberation Sans, sans-serif" font-weight="bold" font-size="25.16" textLength="18.27" lengthAdjust="spacingAndGlyphs" fill="#000" >0</text>
<text x="50.42" y="527.4" font-family="Liberation Sans, sans-serif" font-weight="bold" font-size="25.16" textLength="34.18" lengthAdjust="spacingAndGlyphs" fill="#000" >20</text>
<text x="51.05" y="405.7" font-family="Liberation Sans, sans-serif" font-weight="bold" font-size="25.16" textLength="33.53" lengthAdjust="spacingAndGlyphs" fill="#000" >40</text>
<text x="50.35" y="284" font-family="Liberation Sans, sans-serif" font-weight="bold" font-size="25.16" textLength="34.26" lengthAdjust="spacingAndGlyphs" fill="#000" >60</text>
<text x="50.5" y="162.3" font-family="Liberation Sans, sans-serif" font-weight="bold" font-size="25.16" textLength="34.09" lengthAdjust="spacingAndGlyphs" fill="#000" >80</text>
<text x="33.38" y="40.6" font-family="Liberation Sans, sans-serif" font-weight="bold" font-size="25.16" textLength="51.17" lengthAdjust="spacingAndGlyphs" fill="#000" >100</text>
<text x="86.7" y="670.4" font-family="Liberation Sans, sans-serif" font-weight="bold" font-size="24.88" textLength="18.03" lengthAdjust="spacingAndGlyphs" fill="#000" >0</text>
<text x="193.17" y="670.4" font-family="Liberation Sans, sans-serif" font-weight="bold" font-size="24.88" textLength="33.45" lengthAdjust="spacingAndGlyphs" fill="#000" >10</text>
<text x="305.46" y="670.4" font-family="Liberation Sans, sans-serif" font-weight="bold" font-size="24.88" textLength="34.71" lengthAdjust="spacingAndGlyphs" fill="#000" >20</text>
<text x="419.36" y="670.4" font-family="Liberation Sans, sans-serif" font-weight="bold" font-size="24.88" textLength="34.3" lengthAdjust="spacingAndGlyphs" fill="#000" >30</text>
<text x="533.09" y="670.4" font-family="Liberation Sans, sans-serif" font-weight="bold" font-size="24.88" textLength="34.06" lengthAdjust="spacingAndGlyphs" fill="#000" >40</text>
<text x="646.12" y="670.4" font-family="Liberation Sans, sans-serif" font-weight="bold" font-size="24.88" textLength="34.55" lengthAdjust="spacingAndGlyphs" fill="#000" >50</text>
<text x="759.38" y="670.4" font-family="Liberation Sans, sans-serif" font-weight="bold" font-size="24.88" textLength="34.8" lengthAdjust="spacingAndGlyphs" fill="#000" >60</text>
<text x="872.71" y="670.4" font-family="Liberation Sans, sans-serif" font-weight="bold" font-size="24.88" textLength="34.97" lengthAdjust="spacingAndGlyphs" fill="#000" >70</text>
<text x="986.54" y="670.4" font-family="Liberation Sans, sans-serif" font-weight="bold" font-size="24.88" textLength="34.63" lengthAdjust="spacingAndGlyphs" fill="#000" >80</text>
<text x="491.96" y="701.1" font-family="Liberation Sans, sans-serif" font-weight="bold" font-size="28.51" textLength="160.52" lengthAdjust="spacingAndGlyphs" fill="#000" >Dose [GY]</text>
<text transform="translate(22.8,490.88) rotate(-90)" x="0" y="0" font-family="Liberation Sans, sans-serif" font-weight="bold" font-size="29.67" textLength="334.07" lengthAdjust="spacingAndGlyphs">Relative Volume [%]</text>
<rect x="633.4" y="89.4" width="307.5" height="271.2" rx="4" ry="4" fill="#fff" fill-opacity="0.8" stroke="#d4d4d4" stroke-width="1.1"/>
<path d="M643.3,110.2H695" stroke="#000" stroke-width="4" stroke-linecap="round"/>
<path d="M643.5,147.8H694.7" stroke="#000" stroke-width="3.9" stroke-dasharray="15.4,7.2"/>
<path d="M643.5,185.6H697" stroke="#000" stroke-width="3.9" stroke-dasharray="4.4,6.7"/>
<rect x="663.4" y="218" width="11" height="11" fill="#000"/>
<path transform="translate(668.9,261.2)" d="M0,-6.6L1.48,-2.04L6.28,-2.04L2.4,0.78L3.88,5.34L0,2.52L-3.88,5.34L-2.4,0.78L-6.28,-2.04L-1.48,-2.04Z" fill="#000"/>
<path d="M668.9,291.6l7.2,7.2l-7.2,7.2l-7.2,-7.2z" fill="#000"/>
<path d="M668.9,329.7l7,13.6h-14z" fill="#000"/>
<text x="714.03" y="119.7" font-family="Liberation Sans, sans-serif" font-weight="bold" font-size="27.35" textLength="120.81" lengthAdjust="spacingAndGlyphs" fill="#000" >Nominal</text>
<text x="714.13" y="157.1" font-family="Liberation Sans, sans-serif" font-weight="bold" font-size="27.05" textLength="38.86" lengthAdjust="spacingAndGlyphs" fill="#000" >DL</text>
<text x="715.01" y="194.9" font-family="Liberation Sans, sans-serif" font-weight="bold" font-size="27.35" textLength="38" lengthAdjust="spacingAndGlyphs" fill="#000" >GT</text>
<text x="714.05" y="232.5" font-family="Liberation Sans, sans-serif" font-weight="bold" font-size="26.47" textLength="111.14" lengthAdjust="spacingAndGlyphs" fill="#000" >Rectum</text>
<text x="714.04" y="270.1" font-family="Liberation Sans, sans-serif" font-weight="bold" font-size="26.47" textLength="113.67" lengthAdjust="spacingAndGlyphs" fill="#000" >Bladder</text>
<text x="714.06" y="307.7" font-family="Liberation Sans, sans-serif" font-weight="bold" font-size="26.47" textLength="216.51" lengthAdjust="spacingAndGlyphs" fill="#000" >Femoral Heads</text>
<text x="715" y="345.3" font-family="Liberation Sans, sans-serif" font-weight="bold" font-size="27.35" textLength="55.01" lengthAdjust="spacingAndGlyphs" fill="#000" >CTV</text>
<text x="1060.17" y="61.8" font-family="Liberation Sans, sans-serif" font-weight="bold" font-size="39.56" textLength="207.85" lengthAdjust="spacingAndGlyphs" fill="#000" >Percentiles</text>
<rect x="1070.1" y="76.3" width="165" height="464.4" rx="4" ry="4" fill="#fff" stroke="#d4d4d4" stroke-width="1.1"/>
<rect x="1081" y="89.1" width="56.4" height="19.6" fill="#000080"/>
<text x="1160.81" y="108.7" font-family="Liberation Sans, sans-serif" font-weight="bold" font-size="28.27" textLength="18.33" lengthAdjust="spacingAndGlyphs" fill="#000" >5</text>
<text x="1180.5" y="98.7" font-family="Liberation Sans, sans-serif" font-weight="bold" font-size="17.66" textLength="23" lengthAdjust="spacingAndGlyphs" fill="#000" >th</text>
<rect x="1081" y="130.63" width="56.4" height="19.6" fill="#0000e8"/>
<text x="1159.6" y="150.23" font-family="Liberation Sans, sans-serif" font-weight="bold" font-size="28.27" textLength="39.08" lengthAdjust="spacingAndGlyphs" fill="#000" >10</text>
<text x="1199.5" y="140.23" font-family="Liberation Sans, sans-serif" font-weight="bold" font-size="17.66" textLength="23" lengthAdjust="spacingAndGlyphs" fill="#000" >th</text>
<rect x="1081" y="172.16" width="56.4" height="19.6" fill="#0038ff"/>
<text x="1160.6" y="191.76" font-family="Liberation Sans, sans-serif" font-weight="bold" font-size="28.27" textLength="38.05" lengthAdjust="spacingAndGlyphs" fill="#000" >20</text>
<text x="1199.5" y="181.76" font-family="Liberation Sans, sans-serif" font-weight="bold" font-size="17.66" textLength="23" lengthAdjust="spacingAndGlyphs" fill="#000" >th</text>
<rect x="1081" y="213.69" width="56.4" height="19.6" fill="#0094ff"/>
<text x="1161.04" y="233.29" font-family="Liberation Sans, sans-serif" font-weight="bold" font-size="28.27" textLength="37.59" lengthAdjust="spacingAndGlyphs" fill="#000" >30</text>
<text x="1199.5" y="223.29" font-family="Liberation Sans, sans-serif" font-weight="bold" font-size="17.66" textLength="23" lengthAdjust="spacingAndGlyphs" fill="#000" >th</text>
<rect x="1081" y="255.22" width="56.4" height="19.6" fill="#0cf4eb"/>
<text x="1161.3" y="274.82" font-family="Liberation Sans, sans-serif" font-weight="bold" font-size="28.27" textLength="37.32" lengthAdjust="spacingAndGlyphs" fill="#000" >40</text>
<text x="1199.5" y="264.82" font-family="Liberation Sans, sans-serif" font-weight="bold" font-size="17.66" textLength="23" lengthAdjust="spacingAndGlyphs" fill="#000" >th</text>
<rect x="1081" y="296.75" width="56.4" height="19.6" fill="#56ffa0"/>
<text x="1160.78" y="316.35" font-family="Liberation Sans, sans-serif" font-weight="bold" font-size="28.27" textLength="37.86" lengthAdjust="spacingAndGlyphs" fill="#000" >50</text>
<text x="1199.5" y="306.35" font-family="Liberation Sans, sans-serif" font-weight="bold" font-size="17.66" textLength="23" lengthAdjust="spacingAndGlyphs" fill="#000" >th</text>
<rect x="1081" y="338.28" width="56.4" height="19.6" fill="#a0ff56"/>
<text x="1160.51" y="357.88" font-family="Liberation Sans, sans-serif" font-weight="bold" font-size="28.27" textLength="38.14" lengthAdjust="spacingAndGlyphs" fill="#000" >60</text>
<text x="1199.5" y="347.88" font-family="Liberation Sans, sans-serif" font-weight="bold" font-size="17.66" textLength="23" lengthAdjust="spacingAndGlyphs" fill="#000" >th</text>
<rect x="1081" y="379.81" width="56.4" height="19.6" fill="#ebff0c"/>
<text x="1160.34" y="399.41" font-family="Liberation Sans, sans-serif" font-weight="bold" font-size="28.27" textLength="38.32" lengthAdjust="spacingAndGlyphs" fill="#000" >70</text>
<text x="1199.5" y="389.41" font-family="Liberation Sans, sans-serif" font-weight="bold" font-size="17.66" textLength="23" lengthAdjust="spacingAndGlyphs" fill="#000" >th</text>
<rect x="1081" y="421.34" width="56.4" height="19.6" fill="#ffab00"/>
<text x="1160.69" y="440.94" font-family="Liberation Sans, sans-serif" font-weight="bold" font-size="28.27" textLength="37.95" lengthAdjust="spacingAndGlyphs" fill="#000" >80</text>
<text x="1199.5" y="430.94" font-family="Liberation Sans, sans-serif" font-weight="bold" font-size="17.66" textLength="23" lengthAdjust="spacingAndGlyphs" fill="#000" >th</text>
<rect x="1081" y="462.87" width="56.4" height="19.6" fill="#ff5500"/>
<text x="1160.6" y="482.47" font-family="Liberation Sans, sans-serif" font-weight="bold" font-size="28.27" textLength="38.05" lengthAdjust="spacingAndGlyphs" fill="#000" >90</text>
<text x="1199.5" y="472.47" font-family="Liberation Sans, sans-serif" font-weight="bold" font-size="17.66" textLength="23" lengthAdjust="spacingAndGlyphs" fill="#000" >th</text>
<rect x="1081" y="504.4" width="56.4" height="19.6" fill="#e80000"/>
<text x="1160.62" y="524" font-family="Liberation Sans, sans-serif" font-weight="bold" font-size="28.27" textLength="37.59" lengthAdjust="spacingAndGlyphs" fill="#000" >95</text>
<text x="1199.5" y="514" font-family="Liberation Sans, sans-serif" font-weight="bold" font-size="17.66" textLength="23" lengthAdjust="spacingAndGlyphs" fill="#000" >th</text>
<rect x="91.6" y="891.3" width="1137" height="639" fill="none" stroke="#000" stroke-width="2.6"/>
<path d="M85.1,1471.1H91.6M85.1,1371.2H91.6M85.1,1271.3H91.6M85.1,1171.4H91.6M85.1,1071.5H91.6M85.1,971.6H91.6M143.3,1530.3V1536.8M246.65,1530.3V1536.8M350,1530.3V1536.8M453.35,1530.3V1536.8M556.7,1530.3V1536.8M660.05,1530.3V1536.8M763.4,1530.3V1536.8M866.75,1530.3V1536.8M970.1,1530.3V1536.8M1073.45,1530.3V1536.8M1176.8,1530.3V1536.8" stroke="#000" stroke-width="2.3" fill="none"/>
<text x="30.48" y="1478.75" font-family="Liberation Sans, sans-serif" font-weight="bold" font-size="21.63" textLength="51.25" lengthAdjust="spacingAndGlyphs" fill="#000" >98.8</text>
<text x="30.47" y="1378.85" font-family="Liberation Sans, sans-serif" font-weight="bold" font-size="21.63" textLength="51.52" lengthAdjust="spacingAndGlyphs" fill="#000" >99.0</text>
<text x="30.47" y="1278.95" font-family="Liberation Sans, sans-serif" font-weight="bold" font-size="21.63" textLength="51.52" lengthAdjust="spacingAndGlyphs" fill="#000" >99.2</text>
<text x="30.49" y="1179.05" font-family="Liberation Sans, sans-serif" font-weight="bold" font-size="21.63" textLength="50.57" lengthAdjust="spacingAndGlyphs" fill="#000" >99.4</text>
<text x="30.48" y="1079.15" font-family="Liberation Sans, sans-serif" font-weight="bold" font-size="21.63" textLength="51.38" lengthAdjust="spacingAndGlyphs" fill="#000" >99.6</text>
<text x="30.48" y="979.25" font-family="Liberation Sans, sans-serif" font-weight="bold" font-size="21.63" textLength="51.25" lengthAdjust="spacingAndGlyphs" fill="#000" >99.8</text>
<text x="136.02" y="1556.7" font-family="Liberation Sans, sans-serif" font-weight="bold" font-size="22.19" textLength="14.53" lengthAdjust="spacingAndGlyphs" fill="#000" >5</text>
<text x="232.98" y="1556.7" font-family="Liberation Sans, sans-serif" font-weight="bold" font-size="22.19" textLength="28.82" lengthAdjust="spacingAndGlyphs" fill="#000" >10</text>
<text x="335.85" y="1556.7" font-family="Liberation Sans, sans-serif" font-weight="bold" font-size="22.19" textLength="28.48" lengthAdjust="spacingAndGlyphs" fill="#000" >20</text>
<text x="438.96" y="1556.7" font-family="Liberation Sans, sans-serif" font-weight="bold" font-size="22.19" textLength="29.31" lengthAdjust="spacingAndGlyphs" fill="#000" >30</text>
<text x="542.51" y="1556.7" font-family="Liberation Sans, sans-serif" font-weight="bold" font-size="22.19" textLength="29.1" lengthAdjust="spacingAndGlyphs" fill="#000" >40</text>
<text x="645.45" y="1556.7" font-family="Liberation Sans, sans-serif" font-weight="bold" font-size="22.19" textLength="29.52" lengthAdjust="spacingAndGlyphs" fill="#000" >50</text>
<text x="748.6" y="1556.7" font-family="Liberation Sans, sans-serif" font-weight="bold" font-size="22.19" textLength="29.73" lengthAdjust="spacingAndGlyphs" fill="#000" >60</text>
<text x="851.81" y="1556.7" font-family="Liberation Sans, sans-serif" font-weight="bold" font-size="22.19" textLength="29.88" lengthAdjust="spacingAndGlyphs" fill="#000" >70</text>
<text x="955.44" y="1556.7" font-family="Liberation Sans, sans-serif" font-weight="bold" font-size="22.19" textLength="29.59" lengthAdjust="spacingAndGlyphs" fill="#000" >80</text>
<text x="1058.72" y="1556.7" font-family="Liberation Sans, sans-serif" font-weight="bold" font-size="22.19" textLength="29.66" lengthAdjust="spacingAndGlyphs" fill="#000" >90</text>
<text x="1162.08" y="1556.7" font-family="Liberation Sans, sans-serif" font-weight="bold" font-size="22.19" textLength="29.31" lengthAdjust="spacingAndGlyphs" fill="#000" >95</text>
<text x="563.94" y="1583.3" font-family="Liberation Sans, sans-serif" font-weight="bold" font-size="25.75" textLength="21.02" lengthAdjust="spacingAndGlyphs" fill="#000" >N</text>
<text x="585.73" y="1574.4" font-family="Liberation Sans, sans-serif" font-weight="bold" font-size="17.1" textLength="20.07" lengthAdjust="spacingAndGlyphs" fill="#000" >th</text>
<text x="614.1" y="1583.3" font-family="Liberation Sans, sans-serif" font-weight="bold" font-size="25.75" textLength="141.57" lengthAdjust="spacingAndGlyphs" fill="#000" >Percentile</text>
<text transform="translate(22,1349.11) rotate(-90)" x="0" y="0" font-family="Liberation Sans, sans-serif" font-weight="bold" font-size="26.29" textLength="283.76" lengthAdjust="spacingAndGlyphs">Gamma Passing Rate</text>
<path d="M143.3,1192.3V1320M143.3,1102.2V1043.1M132.1,1320H154.5M132.1,1043.1H154.5" stroke="#000" stroke-width="2.5" fill="none"/>
<rect x="122.55" y="1102.2" width="41.5" height="90.1" fill="#000080" stroke="#000" stroke-width="2.5"/>
<path d="M121.3,1130.7H165.3" stroke="#fff" stroke-width="2.7"/>
<circle cx="143.3" cy="1329.5" r="2.9" fill="#444"/>
<circle cx="143.3" cy="1332.7" r="2.9" fill="#444"/>
<circle cx="143.3" cy="1406" r="2.9" fill="#444"/>
<circle cx="143.3" cy="1425.9" r="2.9" fill="#444"/>
<path d="M246.65,1160.7V1261M246.65,1088.6V1024.8M235.45,1261H257.85M235.45,1024.8H257.85" stroke="#000" stroke-width="2.5" fill="none"/>
<rect x="225.9" y="1088.6" width="41.5" height="72.1" fill="#0000e8" stroke="#000" stroke-width="2.5"/>
<path d="M224.65,1121.2H268.65" stroke="#fff" stroke-width="2.7"/>
<circle cx="246.65" cy="1279" r="2.9" fill="#444"/>
<circle cx="246.65" cy="1284.3" r="2.9" fill="#444"/>
<circle cx="246.65" cy="1288.5" r="2.9" fill="#444"/>
<circle cx="246.65" cy="1328" r="2.9" fill="#444"/>
<circle cx="246.65" cy="1362" r="2.9" fill="#444"/>
<circle cx="246.65" cy="1420.8" r="2.9" fill="#444"/>
<path d="M350,1069.7V1144.9M350,1013.8V972.1M338.8,1144.9H361.2M338.8,972.1H361.2" stroke="#000" stroke-width="2.5" fill="none"/>
<rect x="329.25" y="1013.8" width="41.5" height="55.9" fill="#0038ff" stroke="#000" stroke-width="2.5"/>
<path d="M328,1033.7H372" stroke="#fff" stroke-width="2.7"/>
<circle cx="350" cy="1163.8" r="2.9" fill="#444"/>
<circle cx="350" cy="1246" r="2.9" fill="#444"/>
<path d="M453.35,1010.2V1074.9M453.35,965.3V932.1M442.15,1074.9H464.55M442.15,932.1H464.55" stroke="#000" stroke-width="2.5" fill="none"/>
<rect x="432.6" y="965.3" width="41.5" height="44.9" fill="#0094ff" stroke="#000" stroke-width="2.5"/>
<path d="M431.35,982.1H475.35" stroke="#fff" stroke-width="2.7"/>
<circle cx="453.35" cy="1080" r="2.9" fill="#444"/>
<circle cx="453.35" cy="1139.1" r="2.9" fill="#444"/>
<circle cx="453.35" cy="1149.5" r="2.9" fill="#444"/>
<circle cx="453.35" cy="1200.7" r="2.9" fill="#444"/>
<circle cx="453.35" cy="1239.6" r="2.9" fill="#444"/>
<circle cx="453.35" cy="1242.7" r="2.9" fill="#444"/>
<path d="M556.7,1003.9V1060.1M556.7,963.7V933.1M545.5,1060.1H567.9M545.5,933.1H567.9" stroke="#000" stroke-width="2.5" fill="none"/>
<rect x="535.95" y="963.7" width="41.5" height="40.2" fill="#0cf4eb" stroke="#000" stroke-width="2.5"/>
<path d="M534.7,979.5H578.7" stroke="#fff" stroke-width="2.7"/>
<circle cx="556.7" cy="1067" r="2.9" fill="#444"/>
<circle cx="556.7" cy="1080.2" r="2.9" fill="#444"/>
<circle cx="556.7" cy="1081.4" r="2.9" fill="#444"/>
<circle cx="556.7" cy="1132.8" r="2.9" fill="#444"/>
<circle cx="556.7" cy="1143.5" r="2.9" fill="#444"/>
<path d="M660.05,985.8V1030.1M660.05,953V930.6M648.85,1030.1H671.25M648.85,930.6H671.25" stroke="#000" stroke-width="2.5" fill="none"/>
<rect x="639.3" y="953" width="41.5" height="32.8" fill="#56ffa0" stroke="#000" stroke-width="2.5"/>
<path d="M638.05,971H682.05" stroke="#fff" stroke-width="2.7"/>
<circle cx="660.05" cy="1034.8" r="2.9" fill="#444"/>
<circle cx="660.05" cy="1039.6" r="2.9" fill="#444"/>
<circle cx="660.05" cy="1044.3" r="2.9" fill="#444"/>
<path d="M763.4,989.6V1044.3M763.4,950.5V920.1M752.2,1044.3H774.6M752.2,920.1H774.6" stroke="#000" stroke-width="2.5" fill="none"/>
<rect x="742.65" y="950.5" width="41.5" height="39.1" fill="#a0ff56" stroke="#000" stroke-width="2.5"/>
<path d="M741.4,967.8H785.4" stroke="#fff" stroke-width="2.7"/>
<circle cx="763.4" cy="1053.8" r="2.9" fill="#444"/>
<circle cx="763.4" cy="1063.9" r="2.9" fill="#444"/>
<circle cx="763.4" cy="1072.7" r="2.9" fill="#444"/>
<circle cx="763.4" cy="1113.8" r="2.9" fill="#444"/>
<circle cx="763.4" cy="1191.2" r="2.9" fill="#444"/>
<path d="M866.75,999.2V1047.9M866.75,964.7V940M855.55,1047.9H877.95M855.55,940H877.95" stroke="#000" stroke-width="2.5" fill="none"/>
<rect x="846" y="964.7" width="41.5" height="34.5" fill="#ebff0c" stroke="#000" stroke-width="2.5"/>
<path d="M844.75,981H888.75" stroke="#fff" stroke-width="2.7"/>
<circle cx="866.75" cy="1055.1" r="2.9" fill="#444"/>
<circle cx="866.75" cy="1063.5" r="2.9" fill="#444"/>
<circle cx="866.75" cy="1077" r="2.9" fill="#444"/>
<circle cx="866.75" cy="1086.4" r="2.9" fill="#444"/>
<circle cx="866.75" cy="1088.2" r="2.9" fill="#444"/>
<circle cx="866.75" cy="1095.8" r="2.9" fill="#444"/>
<circle cx="866.75" cy="1105.3" r="2.9" fill="#444"/>
<circle cx="866.75" cy="1173.6" r="2.9" fill="#444"/>
<circle cx="866.75" cy="1213.6" r="2.9" fill="#444"/>
<path d="M970.1,1095.1V1156.2M970.1,1040.2V982.5M958.9,1156.2H981.3M958.9,982.5H981.3" stroke="#000" stroke-width="2.5" fill="none"/>
<rect x="949.35" y="1040.2" width="41.5" height="54.9" fill="#ffab00" stroke="#000" stroke-width="2.5"/>
<path d="M948.1,1068.2H992.1" stroke="#fff" stroke-width="2.7"/>
<circle cx="970.1" cy="1183.4" r="2.9" fill="#444"/>
<circle cx="970.1" cy="1201.6" r="2.9" fill="#444"/>
<circle cx="970.1" cy="1248.8" r="2.9" fill="#444"/>
<circle cx="970.1" cy="1266.3" r="2.9" fill="#444"/>
<circle cx="970.1" cy="1282.6" r="2.9" fill="#444"/>
<circle cx="970.1" cy="1380.3" r="2.9" fill="#444"/>
<path d="M1073.45,1151.1V1249.9M1073.45,1077.7V1021.7M1062.25,1249.9H1084.65M1062.25,1021.7H1084.65" stroke="#000" stroke-width="2.5" fill="none"/>
<rect x="1052.7" y="1077.7" width="41.5" height="73.4" fill="#ff5500" stroke="#000" stroke-width="2.5"/>
<path d="M1051.45,1108.2H1095.45" stroke="#fff" stroke-width="2.7"/>
<circle cx="1073.45" cy="1374.5" r="2.9" fill="#444"/>
<circle cx="1073.45" cy="1405.2" r="2.9" fill="#444"/>
<circle cx="1073.45" cy="1495.4" r="2.9" fill="#444"/>
<circle cx="1073.45" cy="1501.6" r="2.9" fill="#444"/>
<path d="M1176.8,1187.4V1285.2M1176.8,1106.4V1035.2M1165.6,1285.2H1188M1165.6,1035.2H1188" stroke="#000" stroke-width="2.5" fill="none"/>
<rect x="1156.05" y="1106.4" width="41.5" height="81" fill="#e80000" stroke="#000" stroke-width="2.5"/>
<path d="M1154.8,1144.2H1198.8" stroke="#fff" stroke-width="2.7"/>
<text x="629.41" y="775.14" font-family="Liberation Serif, serif" font-size="49.59" textLength="56.55" lengthAdjust="spacingAndGlyphs">(a)</text>
<text x="629.22" y="1658.04" font-family="Liberation Serif, serif" font-size="49.59" textLength="58.98" lengthAdjust="spacingAndGlyphs">(b)</text>
</svg></body></html>
